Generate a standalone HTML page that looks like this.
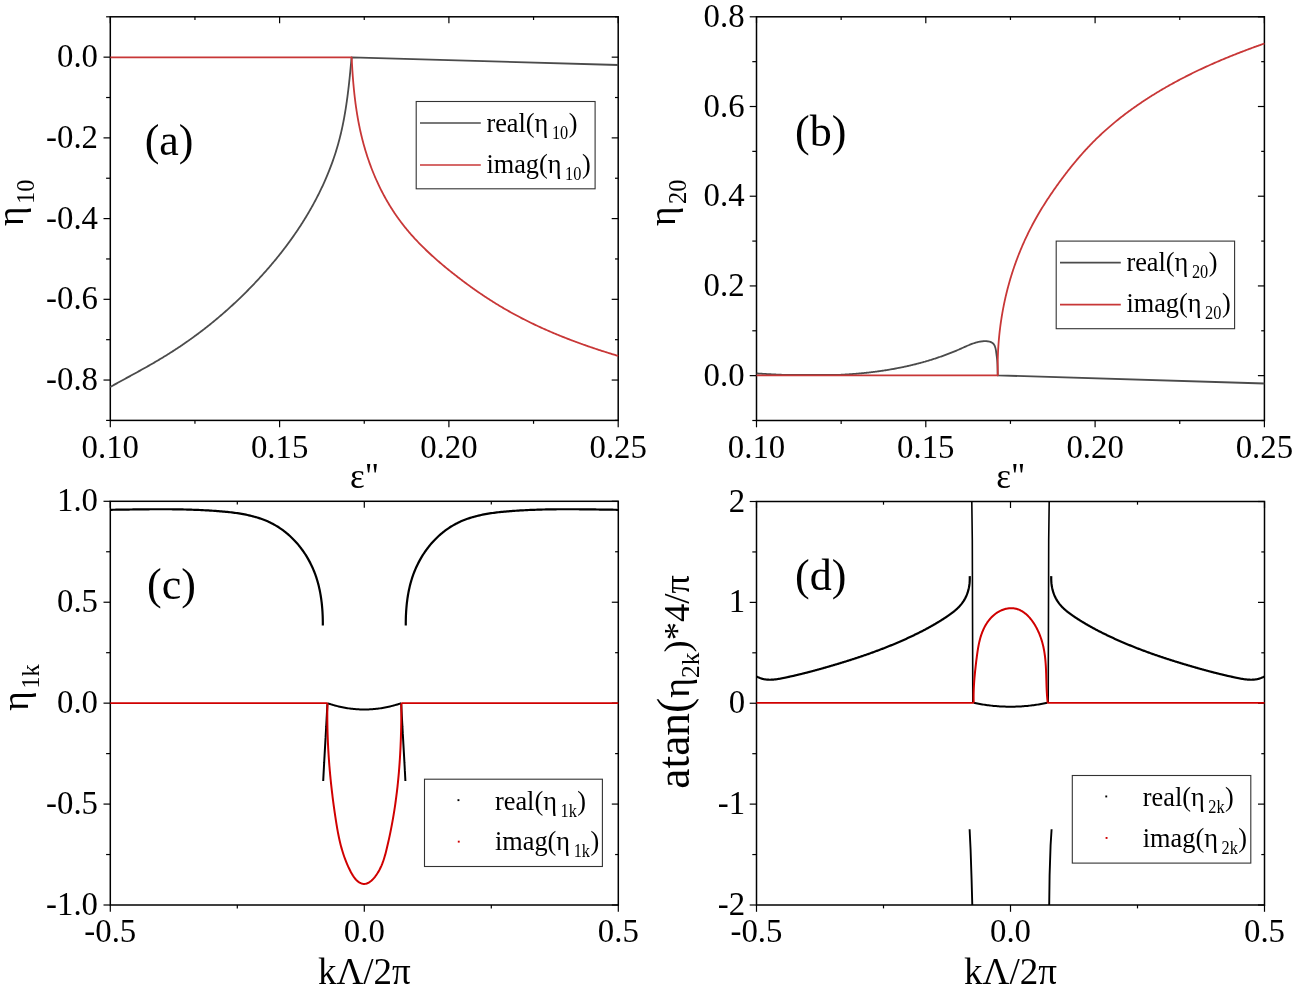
<!DOCTYPE html>
<html><head><meta charset="utf-8"><title>Figure</title>
<style>html,body{margin:0;padding:0;background:#fff;}svg{display:block;}text{font-family:'Liberation Serif','Times New Roman',serif;fill:#000;}</style>
</head><body>
<svg width="1300" height="988" viewBox="0 0 1300 988">
<rect width="1300" height="988" fill="#fff"/>
<line x1="110.3" y1="420.4" x2="110.3" y2="427.2" stroke="#000" stroke-width="1.2"/>
<line x1="110.3" y1="16.8" x2="110.3" y2="23.3" stroke="#000" stroke-width="1.2"/>
<line x1="279.6" y1="420.4" x2="279.6" y2="427.2" stroke="#000" stroke-width="1.2"/>
<line x1="279.6" y1="16.8" x2="279.6" y2="23.3" stroke="#000" stroke-width="1.2"/>
<line x1="448.9" y1="420.4" x2="448.9" y2="427.2" stroke="#000" stroke-width="1.2"/>
<line x1="448.9" y1="16.8" x2="448.9" y2="23.3" stroke="#000" stroke-width="1.2"/>
<line x1="618.2" y1="420.4" x2="618.2" y2="427.2" stroke="#000" stroke-width="1.2"/>
<line x1="618.2" y1="16.8" x2="618.2" y2="23.3" stroke="#000" stroke-width="1.2"/>
<line x1="194.95" y1="420.4" x2="194.95" y2="423.8" stroke="#000" stroke-width="1.2"/>
<line x1="194.95" y1="16.8" x2="194.95" y2="20" stroke="#000" stroke-width="1.2"/>
<line x1="364.25" y1="420.4" x2="364.25" y2="423.8" stroke="#000" stroke-width="1.2"/>
<line x1="364.25" y1="16.8" x2="364.25" y2="20" stroke="#000" stroke-width="1.2"/>
<line x1="533.55" y1="420.4" x2="533.55" y2="423.8" stroke="#000" stroke-width="1.2"/>
<line x1="533.55" y1="16.8" x2="533.55" y2="20" stroke="#000" stroke-width="1.2"/>
<line x1="103.5" y1="380.04" x2="110.3" y2="380.04" stroke="#000" stroke-width="1.2"/>
<line x1="611.7" y1="380.04" x2="618.2" y2="380.04" stroke="#000" stroke-width="1.2"/>
<line x1="103.5" y1="299.32" x2="110.3" y2="299.32" stroke="#000" stroke-width="1.2"/>
<line x1="611.7" y1="299.32" x2="618.2" y2="299.32" stroke="#000" stroke-width="1.2"/>
<line x1="103.5" y1="218.6" x2="110.3" y2="218.6" stroke="#000" stroke-width="1.2"/>
<line x1="611.7" y1="218.6" x2="618.2" y2="218.6" stroke="#000" stroke-width="1.2"/>
<line x1="103.5" y1="137.88" x2="110.3" y2="137.88" stroke="#000" stroke-width="1.2"/>
<line x1="611.7" y1="137.88" x2="618.2" y2="137.88" stroke="#000" stroke-width="1.2"/>
<line x1="103.5" y1="57.16" x2="110.3" y2="57.16" stroke="#000" stroke-width="1.2"/>
<line x1="611.7" y1="57.16" x2="618.2" y2="57.16" stroke="#000" stroke-width="1.2"/>
<line x1="106.1" y1="420.4" x2="110.3" y2="420.4" stroke="#000" stroke-width="1.2"/>
<line x1="615" y1="420.4" x2="618.2" y2="420.4" stroke="#000" stroke-width="1.2"/>
<line x1="106.1" y1="339.68" x2="110.3" y2="339.68" stroke="#000" stroke-width="1.2"/>
<line x1="615" y1="339.68" x2="618.2" y2="339.68" stroke="#000" stroke-width="1.2"/>
<line x1="106.1" y1="258.96" x2="110.3" y2="258.96" stroke="#000" stroke-width="1.2"/>
<line x1="615" y1="258.96" x2="618.2" y2="258.96" stroke="#000" stroke-width="1.2"/>
<line x1="106.1" y1="178.24" x2="110.3" y2="178.24" stroke="#000" stroke-width="1.2"/>
<line x1="615" y1="178.24" x2="618.2" y2="178.24" stroke="#000" stroke-width="1.2"/>
<line x1="106.1" y1="97.52" x2="110.3" y2="97.52" stroke="#000" stroke-width="1.2"/>
<line x1="615" y1="97.52" x2="618.2" y2="97.52" stroke="#000" stroke-width="1.2"/>
<line x1="106.1" y1="16.8" x2="110.3" y2="16.8" stroke="#000" stroke-width="1.2"/>
<line x1="615" y1="16.8" x2="618.2" y2="16.8" stroke="#000" stroke-width="1.2"/>
<rect x="110.3" y="16.8" width="507.9" height="403.6" fill="none" stroke="#000" stroke-width="1.5"/>
<polyline points="110.18,387 111.13,386.48 112.07,385.95 113.01,385.43 113.96,384.91 114.9,384.39 115.84,383.87 116.79,383.35 117.74,382.83 118.68,382.31 119.63,381.79 120.58,381.27 121.52,380.75 122.47,380.24 123.42,379.72 124.37,379.2 125.31,378.68 126.26,378.16 127.21,377.65 128.16,377.13 129.11,376.61 130.05,376.09 131,375.57 131.95,375.05 132.9,374.53 133.84,374.01 134.79,373.49 135.74,372.97 136.69,372.45 137.63,371.93 138.58,371.41 139.52,370.88 140.47,370.36 141.41,369.83 142.36,369.31 143.3,368.78 144.24,368.25 145.19,367.72 146.13,367.19 147.07,366.66 148.01,366.13 148.95,365.6 149.89,365.06 150.82,364.53 151.76,363.99 152.7,363.45 153.63,362.91 154.57,362.37 155.5,361.82 156.43,361.28 157.36,360.73 158.29,360.18 159.22,359.63 160.15,359.08 161.07,358.52 162,357.96 162.92,357.41 163.84,356.85 164.76,356.28 165.68,355.72 166.6,355.15 167.52,354.58 168.43,354.01 169.35,353.43 170.26,352.86 171.17,352.28 172.08,351.7 172.98,351.12 173.89,350.53 174.8,349.94 175.7,349.36 176.6,348.76 177.5,348.17 178.4,347.57 179.3,346.98 180.19,346.38 181.08,345.77 181.98,345.17 182.87,344.56 183.76,343.95 184.65,343.34 185.53,342.73 186.42,342.11 187.3,341.5 188.18,340.88 189.06,340.25 189.94,339.63 190.82,339 191.69,338.37 192.57,337.74 193.44,337.11 194.31,336.48 195.18,335.84 196.05,335.2 196.91,334.56 197.78,333.91 198.64,333.27 199.5,332.62 200.36,331.97 201.22,331.32 202.08,330.67 202.93,330.01 203.78,329.35 204.64,328.69 205.49,328.03 206.34,327.36 207.18,326.7 208.03,326.03 208.87,325.36 209.71,324.68 210.55,324.01 211.39,323.33 212.23,322.65 213.07,321.97 213.9,321.29 214.73,320.6 215.56,319.91 216.39,319.22 217.22,318.53 218.04,317.84 218.87,317.14 219.69,316.44 220.51,315.74 221.33,315.04 222.15,314.33 222.96,313.63 223.78,312.92 224.59,312.21 225.4,311.5 226.21,310.78 227.01,310.06 227.82,309.35 228.62,308.63 229.43,307.9 230.23,307.18 231.02,306.45 231.82,305.72 232.62,304.99 233.41,304.26 234.2,303.53 234.99,302.79 235.78,302.05 236.57,301.31 237.35,300.57 238.13,299.83 238.91,299.08 239.69,298.33 240.47,297.58 241.25,296.83 242.02,296.08 242.79,295.32 243.56,294.57 244.33,293.81 245.1,293.05 245.87,292.28 246.63,291.52 247.39,290.75 248.15,289.99 248.91,289.22 249.67,288.45 250.42,287.67 251.17,286.9 251.92,286.12 252.67,285.34 253.42,284.56 254.17,283.78 254.91,283 255.65,282.21 256.39,281.43 257.13,280.64 257.87,279.85 258.6,279.06 259.33,278.26 260.06,277.47 260.79,276.67 261.52,275.88 262.24,275.08 262.97,274.27 263.69,273.47 264.41,272.67 265.12,271.86 265.84,271.05 266.55,270.24 267.26,269.43 267.97,268.62 268.68,267.8 269.39,266.98 270.09,266.16 270.79,265.34 271.49,264.52 272.19,263.7 272.88,262.87 273.57,262.04 274.26,261.22 274.95,260.38 275.64,259.55 276.32,258.72 277,257.88 277.68,257.04 278.36,256.2 279.03,255.36 279.71,254.52 280.38,253.67 281.04,252.83 281.71,251.98 282.37,251.13 283.03,250.27 283.69,249.42 284.35,248.56 285,247.7 285.65,246.84 286.3,245.98 286.95,245.12 287.59,244.25 288.24,243.38 288.87,242.52 289.51,241.64 290.15,240.77 290.78,239.9 291.41,239.02 292.03,238.14 292.66,237.26 293.28,236.38 293.9,235.49 294.51,234.61 295.13,233.72 295.74,232.83 296.35,231.93 296.95,231.04 297.56,230.14 298.16,229.25 298.75,228.35 299.35,227.45 299.94,226.54 300.53,225.64 301.12,224.73 301.7,223.82 302.28,222.91 302.86,222 303.43,221.08 304.01,220.17 304.57,219.25 305.14,218.33 305.7,217.41 306.27,216.48 306.82,215.56 307.38,214.63 307.93,213.7 308.48,212.77 309.02,211.84 309.56,210.9 310.1,209.97 310.64,209.03 311.17,208.09 311.7,207.15 312.23,206.21 312.75,205.26 313.27,204.32 313.79,203.37 314.3,202.42 314.82,201.47 315.32,200.51 315.83,199.56 316.33,198.6 316.83,197.65 317.32,196.69 317.81,195.72 318.3,194.76 318.78,193.8 319.26,192.83 319.74,191.86 320.21,190.89 320.68,189.92 321.15,188.95 321.61,187.98 322.07,187 322.53,186.02 322.98,185.04 323.43,184.06 323.88,183.08 324.32,182.1 324.76,181.11 325.19,180.13 325.62,179.14 326.05,178.15 326.47,177.16 326.89,176.17 327.31,175.17 327.72,174.18 328.13,173.18 328.54,172.18 328.94,171.18 329.33,170.18 329.73,169.17 330.12,168.17 330.5,167.16 330.88,166.16 331.26,165.15 331.64,164.14 332.01,163.13 332.37,162.11 332.73,161.1 333.09,160.08 333.45,159.07 333.8,158.05 334.14,157.03 334.48,156 334.82,154.98 335.16,153.96 335.48,152.93 335.81,151.91 336.13,150.88 336.45,149.85 336.76,148.82 337.07,147.78 337.37,146.75 337.67,145.72 337.97,144.68 338.26,143.64 338.55,142.6 338.83,141.56 339.11,140.52 339.38,139.48 339.65,138.44 339.92,137.39 340.18,136.34 340.44,135.3 340.69,134.25 340.94,133.2 341.19,132.15 341.43,131.1 341.67,130.04 341.9,128.99 342.13,127.93 342.36,126.88 342.58,125.82 342.8,124.76 343.01,123.7 343.23,122.65 343.43,121.58 343.64,120.52 343.84,119.46 344.04,118.4 344.23,117.34 344.43,116.27 344.62,115.21 344.8,114.14 344.98,113.07 345.16,112.01 345.34,110.94 345.51,109.87 345.69,108.8 345.85,107.73 346.02,106.66 346.18,105.59 346.34,104.52 346.5,103.45 346.66,102.38 346.81,101.31 346.96,100.23 347.11,99.16 347.25,98.09 347.4,97.02 347.54,95.94 347.68,94.87 347.81,93.79 347.95,92.72 348.08,91.64 348.21,90.57 348.34,89.49 348.47,88.42 348.59,87.34 348.72,86.27 348.84,85.19 348.96,84.12 349.08,83.04 349.19,81.97 349.31,80.89 349.42,79.82 349.54,78.74 349.65,77.67 349.76,76.6 349.87,75.52 349.97,74.45 350.08,73.37 350.19,72.3 350.29,71.23 350.39,70.15 350.5,69.08 350.6,68.01 350.7,66.94 350.8,65.86 350.9,64.79 351,63.72 351.1,62.65 351.2,61.58 351.29,60.51 351.39,59.44 351.49,58.38 351.58,57.31 618.2,65" fill="none" stroke="#4b4b4b" stroke-width="1.8" stroke-linejoin="round" stroke-linecap="butt" />
<polyline points="110.3,57.3 351.7,57.3 351.66,57.35 351.71,58.42 351.77,59.5 351.82,60.57 351.88,61.65 351.93,62.73 351.99,63.8 352.05,64.88 352.11,65.96 352.18,67.04 352.24,68.12 352.31,69.2 352.37,70.28 352.44,71.36 352.52,72.44 352.59,73.52 352.67,74.61 352.74,75.69 352.82,76.77 352.9,77.85 352.99,78.93 353.07,80.02 353.16,81.1 353.25,82.18 353.34,83.27 353.44,84.35 353.54,85.43 353.64,86.52 353.74,87.6 353.84,88.68 353.95,89.77 354.06,90.85 354.17,91.93 354.28,93.02 354.4,94.1 354.52,95.18 354.64,96.26 354.77,97.35 354.9,98.43 355.03,99.51 355.16,100.59 355.3,101.68 355.44,102.76 355.58,103.84 355.73,104.92 355.88,106 356.03,107.08 356.19,108.16 356.35,109.24 356.51,110.31 356.68,111.39 356.84,112.47 357.02,113.55 357.19,114.62 357.37,115.7 357.56,116.77 357.74,117.85 357.93,118.92 358.13,120 358.32,121.07 358.52,122.14 358.73,123.21 358.94,124.28 359.15,125.35 359.37,126.42 359.59,127.49 359.81,128.56 360.04,129.62 360.28,130.69 360.51,131.75 360.75,132.81 361,133.88 361.25,134.94 361.5,136 361.76,137.06 362.02,138.12 362.29,139.17 362.56,140.23 362.84,141.28 363.11,142.34 363.4,143.39 363.69,144.44 363.98,145.49 364.27,146.54 364.57,147.59 364.88,148.63 365.19,149.68 365.5,150.72 365.82,151.76 366.14,152.8 366.46,153.84 366.79,154.88 367.13,155.92 367.47,156.95 367.81,157.98 368.16,159.01 368.51,160.04 368.87,161.07 369.23,162.1 369.59,163.12 369.96,164.14 370.34,165.17 370.71,166.18 371.1,167.2 371.48,168.22 371.87,169.23 372.27,170.24 372.67,171.25 373.08,172.26 373.48,173.27 373.9,174.27 374.32,175.27 374.74,176.27 375.17,177.27 375.6,178.26 376.03,179.26 376.47,180.25 376.92,181.24 377.37,182.23 377.82,183.21 378.28,184.19 378.74,185.17 379.21,186.15 379.68,187.13 380.16,188.1 380.64,189.07 381.13,190.04 381.62,191 382.11,191.97 382.61,192.93 383.11,193.89 383.62,194.84 384.14,195.79 384.65,196.74 385.18,197.69 385.7,198.64 386.23,199.58 386.77,200.52 387.31,201.46 387.86,202.39 388.41,203.32 388.96,204.25 389.52,205.18 390.09,206.1 390.66,207.02 391.23,207.94 391.81,208.85 392.39,209.76 392.98,210.67 393.57,211.58 394.17,212.48 394.77,213.38 395.38,214.27 395.99,215.16 396.61,216.05 397.23,216.94 397.85,217.82 398.48,218.7 399.12,219.58 399.76,220.45 400.41,221.32 401.06,222.19 401.71,223.05 402.37,223.91 403.03,224.77 403.7,225.62 404.38,226.47 405.06,227.32 405.74,228.16 406.43,229 407.12,229.84 407.82,230.67 408.52,231.5 409.22,232.33 409.93,233.15 410.65,233.97 411.36,234.79 412.09,235.6 412.81,236.41 413.54,237.22 414.28,238.02 415.01,238.83 415.76,239.62 416.5,240.42 417.25,241.21 418,242 418.76,242.79 419.52,243.57 420.28,244.35 421.05,245.13 421.82,245.9 422.59,246.67 423.37,247.44 424.15,248.21 424.93,248.97 425.72,249.73 426.51,250.49 427.3,251.25 428.1,252 428.89,252.75 429.7,253.49 430.5,254.24 431.31,254.98 432.11,255.72 432.93,256.45 433.74,257.19 434.56,257.92 435.37,258.65 436.2,259.37 437.02,260.1 437.85,260.82 438.67,261.53 439.5,262.25 440.34,262.96 441.17,263.67 442.01,264.38 442.84,265.09 443.68,265.79 444.53,266.49 445.37,267.19 446.21,267.89 447.06,268.59 447.91,269.28 448.76,269.97 449.61,270.66 450.46,271.34 451.32,272.02 452.17,272.71 453.03,273.38 453.89,274.06 454.75,274.74 455.61,275.41 456.47,276.08 457.33,276.75 458.19,277.42 459.06,278.08 459.92,278.74 460.79,279.4 461.66,280.06 462.53,280.72 463.4,281.37 464.27,282.02 465.14,282.67 466.01,283.32 466.89,283.96 467.76,284.61 468.64,285.25 469.52,285.89 470.4,286.52 471.28,287.16 472.16,287.79 473.05,288.42 473.93,289.04 474.82,289.67 475.7,290.29 476.59,290.91 477.48,291.53 478.37,292.15 479.27,292.76 480.16,293.37 481.06,293.98 481.95,294.58 482.85,295.19 483.75,295.79 484.65,296.39 485.56,296.99 486.46,297.58 487.37,298.17 488.27,298.76 489.18,299.35 490.09,299.94 491,300.52 491.92,301.1 492.83,301.68 493.75,302.25 494.67,302.82 495.58,303.39 496.51,303.96 497.43,304.53 498.35,305.09 499.28,305.65 500.21,306.21 501.13,306.76 502.07,307.31 503,307.86 503.93,308.41 504.87,308.96 505.81,309.5 506.74,310.04 507.69,310.58 508.63,311.11 509.57,311.64 510.52,312.17 511.47,312.7 512.42,313.22 513.37,313.75 514.32,314.27 515.27,314.78 516.23,315.3 517.19,315.81 518.15,316.32 519.11,316.82 520.07,317.33 521.03,317.83 522,318.33 522.97,318.83 523.93,319.32 524.9,319.81 525.87,320.3 526.85,320.79 527.82,321.27 528.8,321.76 529.77,322.24 530.75,322.71 531.73,323.19 532.71,323.66 533.69,324.13 534.68,324.6 535.66,325.07 536.65,325.53 537.63,325.99 538.62,326.45 539.61,326.91 540.6,327.36 541.59,327.81 542.59,328.26 543.58,328.71 544.58,329.15 545.57,329.6 546.57,330.04 547.57,330.48 548.57,330.91 549.57,331.35 550.57,331.78 551.57,332.21 552.58,332.64 553.58,333.06 554.59,333.48 555.59,333.9 556.6,334.32 557.61,334.74 558.62,335.16 559.63,335.57 560.64,335.98 561.65,336.39 562.66,336.79 563.68,337.2 564.69,337.6 565.71,338 566.72,338.4 567.74,338.79 568.76,339.19 569.78,339.58 570.8,339.97 571.82,340.36 572.84,340.74 573.86,341.13 574.88,341.51 575.9,341.89 576.92,342.27 577.95,342.64 578.97,343.02 580,343.39 581.02,343.76 582.05,344.13 583.07,344.49 584.1,344.86 585.13,345.22 586.15,345.58 587.18,345.94 588.21,346.3 589.24,346.65 590.27,347 591.3,347.36 592.33,347.71 593.36,348.05 594.39,348.4 595.42,348.74 596.45,349.09 597.48,349.43 598.52,349.77 599.55,350.1 600.58,350.44 601.61,350.77 602.65,351.1 603.68,351.44 604.71,351.76 605.75,352.09 606.78,352.42 607.81,352.74 608.85,353.06 609.88,353.38 610.91,353.7 611.95,354.02 612.98,354.33 614.02,354.65 615.05,354.96 616.08,355.27 617.12,355.58 618.15,355.88" fill="none" stroke="#c83737" stroke-width="1.8" stroke-linejoin="round" stroke-linecap="butt" />
<line x1="756.5" y1="420.5" x2="756.5" y2="427.3" stroke="#000" stroke-width="1.2"/>
<line x1="756.5" y1="16.8" x2="756.5" y2="23.3" stroke="#000" stroke-width="1.2"/>
<line x1="925.8" y1="420.5" x2="925.8" y2="427.3" stroke="#000" stroke-width="1.2"/>
<line x1="925.8" y1="16.8" x2="925.8" y2="23.3" stroke="#000" stroke-width="1.2"/>
<line x1="1095.1" y1="420.5" x2="1095.1" y2="427.3" stroke="#000" stroke-width="1.2"/>
<line x1="1095.1" y1="16.8" x2="1095.1" y2="23.3" stroke="#000" stroke-width="1.2"/>
<line x1="1264.4" y1="420.5" x2="1264.4" y2="427.3" stroke="#000" stroke-width="1.2"/>
<line x1="1264.4" y1="16.8" x2="1264.4" y2="23.3" stroke="#000" stroke-width="1.2"/>
<line x1="841.15" y1="420.5" x2="841.15" y2="423.9" stroke="#000" stroke-width="1.2"/>
<line x1="841.15" y1="16.8" x2="841.15" y2="20" stroke="#000" stroke-width="1.2"/>
<line x1="1010.45" y1="420.5" x2="1010.45" y2="423.9" stroke="#000" stroke-width="1.2"/>
<line x1="1010.45" y1="16.8" x2="1010.45" y2="20" stroke="#000" stroke-width="1.2"/>
<line x1="1179.75" y1="420.5" x2="1179.75" y2="423.9" stroke="#000" stroke-width="1.2"/>
<line x1="1179.75" y1="16.8" x2="1179.75" y2="20" stroke="#000" stroke-width="1.2"/>
<line x1="749.7" y1="375.64" x2="756.5" y2="375.64" stroke="#000" stroke-width="1.2"/>
<line x1="1257.9" y1="375.64" x2="1264.4" y2="375.64" stroke="#000" stroke-width="1.2"/>
<line x1="749.7" y1="285.93" x2="756.5" y2="285.93" stroke="#000" stroke-width="1.2"/>
<line x1="1257.9" y1="285.93" x2="1264.4" y2="285.93" stroke="#000" stroke-width="1.2"/>
<line x1="749.7" y1="196.22" x2="756.5" y2="196.22" stroke="#000" stroke-width="1.2"/>
<line x1="1257.9" y1="196.22" x2="1264.4" y2="196.22" stroke="#000" stroke-width="1.2"/>
<line x1="749.7" y1="106.51" x2="756.5" y2="106.51" stroke="#000" stroke-width="1.2"/>
<line x1="1257.9" y1="106.51" x2="1264.4" y2="106.51" stroke="#000" stroke-width="1.2"/>
<line x1="749.7" y1="16.8" x2="756.5" y2="16.8" stroke="#000" stroke-width="1.2"/>
<line x1="1257.9" y1="16.8" x2="1264.4" y2="16.8" stroke="#000" stroke-width="1.2"/>
<line x1="752.3" y1="420.5" x2="756.5" y2="420.5" stroke="#000" stroke-width="1.2"/>
<line x1="1261.2" y1="420.5" x2="1264.4" y2="420.5" stroke="#000" stroke-width="1.2"/>
<line x1="752.3" y1="330.79" x2="756.5" y2="330.79" stroke="#000" stroke-width="1.2"/>
<line x1="1261.2" y1="330.79" x2="1264.4" y2="330.79" stroke="#000" stroke-width="1.2"/>
<line x1="752.3" y1="241.08" x2="756.5" y2="241.08" stroke="#000" stroke-width="1.2"/>
<line x1="1261.2" y1="241.08" x2="1264.4" y2="241.08" stroke="#000" stroke-width="1.2"/>
<line x1="752.3" y1="151.37" x2="756.5" y2="151.37" stroke="#000" stroke-width="1.2"/>
<line x1="1261.2" y1="151.37" x2="1264.4" y2="151.37" stroke="#000" stroke-width="1.2"/>
<line x1="752.3" y1="61.66" x2="756.5" y2="61.66" stroke="#000" stroke-width="1.2"/>
<line x1="1261.2" y1="61.66" x2="1264.4" y2="61.66" stroke="#000" stroke-width="1.2"/>
<rect x="756.5" y="16.8" width="507.9" height="403.7" fill="none" stroke="#000" stroke-width="1.5"/>
<polyline points="756.56,373.42 757.24,373.47 757.92,373.51 758.6,373.55 759.28,373.6 759.96,373.64 760.64,373.68 761.33,373.72 762.01,373.76 762.69,373.81 763.37,373.85 764.06,373.89 764.74,373.93 765.42,373.97 766.11,374 766.79,374.04 767.47,374.08 768.16,374.12 768.84,374.16 769.53,374.19 770.21,374.23 770.9,374.26 771.58,374.3 772.27,374.34 772.95,374.37 773.64,374.4 774.32,374.44 775.01,374.47 775.69,374.5 776.38,374.54 777.06,374.57 777.75,374.6 778.44,374.63 779.12,374.66 779.81,374.69 780.5,374.72 781.18,374.75 781.87,374.78 782.56,374.8 783.24,374.83 783.93,374.86 784.62,374.88 785.3,374.91 785.99,374.94 786.68,374.96 787.37,374.98 788.06,375 788.74,375 789.43,375 790.12,375 790.81,375 791.5,375 792.18,375 792.87,375 793.56,375 794.25,375 794.94,375 795.63,375 796.32,375 797.01,375 797.69,375 798.38,375 799.07,375 799.76,375 800.45,375 801.14,375 801.83,375 802.52,375 803.21,375 803.9,375 804.59,375 805.28,375 805.97,375 806.66,375 807.35,375 808.04,375 808.73,375 809.42,375 810.11,375 810.8,375 811.49,375 812.18,375 812.87,375 813.56,375 814.25,375 814.94,375 815.63,375 816.32,375 817.01,375 817.7,375 818.39,375 819.08,375 819.77,375 820.46,375 821.15,375 821.84,375 822.53,375 823.22,375 823.91,375 824.6,375 825.29,375 825.98,375 826.67,375 827.36,375 828.05,375 828.74,375 829.43,375 830.12,375 830.81,375 831.5,375 832.19,375 832.88,375 833.57,375 834.26,375 834.95,375 835.64,374.99 836.32,374.96 837.01,374.93 837.7,374.9 838.39,374.87 839.08,374.84 839.77,374.81 840.46,374.78 841.15,374.74 841.84,374.71 842.53,374.67 843.21,374.63 843.9,374.59 844.59,374.55 845.28,374.51 845.97,374.47 846.66,374.43 847.34,374.39 848.03,374.34 848.72,374.3 849.41,374.25 850.1,374.2 850.78,374.16 851.47,374.11 852.16,374.06 852.85,374.01 853.53,373.95 854.22,373.9 854.91,373.85 855.59,373.79 856.28,373.73 856.97,373.68 857.65,373.62 858.34,373.56 859.02,373.5 859.71,373.44 860.4,373.37 861.08,373.31 861.77,373.24 862.45,373.18 863.14,373.11 863.82,373.04 864.51,372.97 865.19,372.9 865.88,372.83 866.56,372.76 867.25,372.68 867.93,372.61 868.61,372.53 869.3,372.46 869.98,372.38 870.67,372.3 871.35,372.22 872.03,372.14 872.72,372.05 873.4,371.97 874.08,371.88 874.76,371.8 875.44,371.71 876.13,371.62 876.81,371.53 877.49,371.44 878.17,371.34 878.85,371.25 879.53,371.16 880.21,371.06 880.89,370.96 881.58,370.86 882.26,370.76 882.94,370.66 883.62,370.56 884.29,370.46 884.97,370.35 885.65,370.24 886.33,370.14 887.01,370.03 887.69,369.92 888.37,369.81 889.04,369.69 889.72,369.58 890.4,369.47 891.08,369.35 891.75,369.23 892.43,369.11 893.11,368.99 893.78,368.87 894.46,368.75 895.13,368.62 895.81,368.5 896.48,368.37 897.16,368.24 897.83,368.11 898.51,367.98 899.18,367.85 899.86,367.71 900.53,367.58 901.2,367.44 901.88,367.3 902.55,367.16 903.22,367.02 903.89,366.88 904.56,366.74 905.24,366.59 905.91,366.45 906.58,366.3 907.25,366.15 907.92,366 908.59,365.85 909.26,365.69 909.93,365.54 910.6,365.38 911.27,365.22 911.93,365.06 912.6,364.9 913.27,364.74 913.94,364.58 914.6,364.41 915.27,364.25 915.94,364.08 916.6,363.91 917.27,363.74 917.93,363.56 918.6,363.39 919.26,363.21 919.93,363.04 920.59,362.86 921.26,362.68 921.92,362.5 922.58,362.31 923.25,362.13 923.91,361.94 924.57,361.75 925.23,361.57 925.89,361.37 926.55,361.18 927.21,360.99 927.87,360.79 928.53,360.59 929.19,360.4 929.85,360.2 930.51,359.99 931.17,359.79 931.83,359.58 932.48,359.38 933.14,359.17 933.8,358.96 934.45,358.75 935.11,358.53 935.77,358.32 936.42,358.1 937.08,357.88 937.73,357.66 938.38,357.44 939.04,357.22 939.69,356.99 940.34,356.77 940.99,356.54 941.65,356.31 942.3,356.08 942.95,355.84 943.6,355.61 944.25,355.37 944.9,355.13 945.55,354.89 946.2,354.65 946.84,354.41 947.49,354.16 948.14,353.92 948.79,353.67 949.43,353.42 950.08,353.17 950.73,352.91 951.37,352.66 952.02,352.4 952.66,352.14 953.3,351.88 953.95,351.62 954.59,351.35 955.23,351.09 955.87,350.82 956.52,350.55 957.16,350.28 957.8,350 958.44,349.73 959.08,349.45 959.72,349.17 960.35,348.89 960.99,348.61 961.63,348.32 962.27,348.04 962.9,347.75 963.54,347.47 964.18,347.18 964.81,346.89 965.45,346.61 966.09,346.33 966.72,346.05 967.36,345.77 968,345.5 968.64,345.23 969.27,344.96 969.91,344.7 970.55,344.45 971.2,344.2 971.84,343.95 972.48,343.72 973.12,343.49 973.77,343.27 974.41,343.05 975.06,342.85 975.71,342.65 976.36,342.47 977.01,342.29 977.67,342.13 978.32,341.98 978.98,341.84 979.64,341.71 980.3,341.59 980.96,341.49 981.63,341.4 982.3,341.33 982.97,341.27 983.64,341.22 984.32,341.2 984.99,341.18 985.67,341.19 986.36,341.21 987.04,341.26 987.71,341.33 988.38,341.42 989.03,341.54 989.67,341.7 990.3,341.89 990.9,342.11 991.48,342.38 992.03,342.69 992.55,343.04 993.03,343.44 993.48,343.9 993.89,344.4 994.26,344.96 994.58,345.58 994.86,346.23 995.11,346.93 995.33,347.65 995.52,348.4 995.69,349.17 995.84,349.94 995.97,350.72 996.08,351.49 996.19,352.26 996.29,353.01 996.38,353.73 996.47,354.43 996.56,355.1 996.65,355.76 996.74,356.41 996.82,357.05 996.9,357.68 996.97,358.31 997.04,358.95 997.1,359.59 997.16,360.25 997.22,360.91 997.27,361.58 997.32,362.25 997.36,362.94 997.4,363.63 997.44,364.32 997.47,365.02 997.5,365.72 997.53,366.42 997.55,367.13 997.57,367.84 997.59,368.54 997.61,369.25 997.62,369.95 997.64,370.65 997.65,371.35 997.66,372.04 997.67,372.72 997.68,373.41 997.68,374.08 997.69,374.75 997.7,375.4 1264.4,383.5" fill="none" stroke="#4b4b4b" stroke-width="1.8" stroke-linejoin="round" stroke-linecap="butt" />
<polyline points="756.5,375.4 997.7,375.4 997.79,375.37 997.77,374.23 997.74,373.08 997.72,371.94 997.7,370.79 997.69,369.65 997.68,368.51 997.68,367.36 997.68,366.22 997.68,365.07 997.69,363.92 997.7,362.78 997.72,361.63 997.74,360.49 997.77,359.34 997.8,358.19 997.83,357.05 997.87,355.9 997.91,354.75 997.96,353.61 998.01,352.46 998.06,351.31 998.12,350.16 998.19,349.02 998.25,347.87 998.33,346.72 998.4,345.58 998.48,344.43 998.57,343.28 998.65,342.14 998.75,340.99 998.84,339.85 998.95,338.7 999.05,337.55 999.16,336.41 999.27,335.26 999.39,334.12 999.51,332.98 999.64,331.83 999.77,330.69 999.91,329.55 1000.05,328.4 1000.19,327.26 1000.34,326.12 1000.49,324.98 1000.64,323.84 1000.8,322.7 1000.97,321.56 1001.14,320.42 1001.31,319.28 1001.49,318.14 1001.67,317 1001.85,315.87 1002.04,314.73 1002.24,313.6 1002.44,312.46 1002.64,311.33 1002.84,310.2 1003.06,309.06 1003.27,307.93 1003.49,306.8 1003.71,305.67 1003.94,304.54 1004.17,303.41 1004.41,302.29 1004.65,301.16 1004.89,300.04 1005.14,298.91 1005.39,297.79 1005.65,296.67 1005.91,295.55 1006.18,294.43 1006.45,293.31 1006.72,292.19 1007,291.07 1007.28,289.96 1007.57,288.84 1007.86,287.73 1008.16,286.62 1008.46,285.51 1008.76,284.4 1009.07,283.29 1009.38,282.18 1009.7,281.07 1010.02,279.97 1010.34,278.87 1010.67,277.76 1011,276.66 1011.34,275.57 1011.68,274.47 1012.03,273.37 1012.38,272.28 1012.73,271.18 1013.09,270.09 1013.45,269 1013.82,267.92 1014.19,266.83 1014.57,265.74 1014.95,264.66 1015.33,263.58 1015.72,262.5 1016.11,261.42 1016.51,260.34 1016.91,259.27 1017.31,258.19 1017.72,257.12 1018.13,256.05 1018.55,254.98 1018.97,253.92 1019.4,252.85 1019.83,251.79 1020.26,250.73 1020.7,249.67 1021.14,248.61 1021.59,247.55 1022.04,246.5 1022.49,245.44 1022.95,244.39 1023.41,243.34 1023.88,242.3 1024.35,241.25 1024.82,240.21 1025.3,239.17 1025.79,238.13 1026.27,237.09 1026.76,236.05 1027.26,235.02 1027.76,233.99 1028.26,232.95 1028.77,231.93 1029.28,230.9 1029.79,229.88 1030.31,228.85 1030.84,227.83 1031.36,226.81 1031.89,225.8 1032.43,224.78 1032.97,223.77 1033.51,222.76 1034.06,221.75 1034.61,220.74 1035.16,219.74 1035.72,218.74 1036.28,217.73 1036.85,216.74 1037.42,215.74 1037.99,214.75 1038.57,213.75 1039.16,212.76 1039.74,211.78 1040.33,210.79 1040.92,209.81 1041.52,208.82 1042.12,207.84 1042.72,206.87 1043.33,205.89 1043.94,204.91 1044.56,203.94 1045.17,202.97 1045.79,202 1046.42,201.04 1047.04,200.07 1047.67,199.11 1048.31,198.15 1048.94,197.19 1049.58,196.23 1050.22,195.28 1050.87,194.32 1051.52,193.37 1052.17,192.42 1052.82,191.47 1053.47,190.52 1054.13,189.58 1054.79,188.64 1055.45,187.69 1056.12,186.75 1056.79,185.82 1057.46,184.88 1058.13,183.94 1058.8,183.01 1059.48,182.08 1060.16,181.15 1060.84,180.22 1061.52,179.29 1062.21,178.37 1062.9,177.44 1063.59,176.52 1064.29,175.6 1064.98,174.69 1065.68,173.77 1066.38,172.86 1067.09,171.95 1067.79,171.04 1068.5,170.13 1069.21,169.23 1069.93,168.33 1070.65,167.43 1071.37,166.53 1072.09,165.63 1072.81,164.74 1073.54,163.85 1074.27,162.96 1075.01,162.08 1075.74,161.2 1076.48,160.31 1077.22,159.44 1077.97,158.56 1078.72,157.69 1079.47,156.82 1080.22,155.95 1080.98,155.09 1081.74,154.23 1082.5,153.37 1083.27,152.51 1084.03,151.66 1084.81,150.81 1085.58,149.96 1086.36,149.12 1087.14,148.28 1087.92,147.44 1088.71,146.6 1089.5,145.77 1090.3,144.94 1091.09,144.12 1091.89,143.3 1092.7,142.48 1093.5,141.66 1094.31,140.85 1095.12,140.04 1095.94,139.23 1096.76,138.43 1097.58,137.63 1098.41,136.84 1099.24,136.05 1100.07,135.26 1100.91,134.47 1101.75,133.69 1102.59,132.91 1103.44,132.14 1104.29,131.37 1105.14,130.6 1105.99,129.83 1106.85,129.07 1107.71,128.31 1108.57,127.56 1109.44,126.81 1110.31,126.06 1111.18,125.31 1112.06,124.57 1112.94,123.83 1113.82,123.1 1114.7,122.37 1115.59,121.64 1116.48,120.91 1117.37,120.19 1118.27,119.47 1119.16,118.75 1120.06,118.04 1120.97,117.33 1121.87,116.62 1122.78,115.92 1123.69,115.22 1124.6,114.52 1125.52,113.83 1126.44,113.14 1127.36,112.45 1128.28,111.77 1129.2,111.08 1130.13,110.4 1131.06,109.73 1131.99,109.06 1132.93,108.39 1133.86,107.72 1134.8,107.06 1135.74,106.4 1136.68,105.74 1137.63,105.08 1138.58,104.43 1139.52,103.78 1140.48,103.14 1141.43,102.49 1142.38,101.85 1143.34,101.22 1144.3,100.58 1145.26,99.95 1146.22,99.32 1147.19,98.7 1148.15,98.07 1149.12,97.45 1150.09,96.84 1151.06,96.22 1152.04,95.61 1153.01,95 1153.99,94.4 1154.97,93.79 1155.95,93.19 1156.93,92.59 1157.91,92 1158.9,91.41 1159.88,90.82 1160.87,90.23 1161.86,89.65 1162.85,89.07 1163.85,88.49 1164.84,87.91 1165.84,87.34 1166.83,86.77 1167.83,86.2 1168.83,85.63 1169.83,85.07 1170.84,84.51 1171.84,83.95 1172.85,83.39 1173.86,82.84 1174.87,82.29 1175.88,81.74 1176.89,81.2 1177.9,80.66 1178.92,80.12 1179.93,79.58 1180.95,79.04 1181.97,78.51 1182.99,77.98 1184.01,77.45 1185.03,76.93 1186.05,76.4 1187.08,75.88 1188.11,75.36 1189.13,74.85 1190.16,74.33 1191.19,73.82 1192.22,73.31 1193.26,72.81 1194.29,72.3 1195.32,71.8 1196.36,71.3 1197.4,70.8 1198.43,70.31 1199.47,69.81 1200.51,69.32 1201.55,68.83 1202.6,68.35 1203.64,67.86 1204.68,67.38 1205.73,66.9 1206.78,66.42 1207.82,65.95 1208.87,65.47 1209.92,65 1210.97,64.53 1212.02,64.07 1213.08,63.6 1214.13,63.14 1215.18,62.68 1216.24,62.22 1217.29,61.76 1218.35,61.31 1219.41,60.85 1220.47,60.4 1221.53,59.95 1222.59,59.51 1223.65,59.06 1224.71,58.62 1225.77,58.18 1226.83,57.74 1227.9,57.3 1228.96,56.87 1230.03,56.44 1231.09,56 1232.16,55.57 1233.23,55.15 1234.3,54.72 1235.36,54.3 1236.43,53.88 1237.5,53.45 1238.57,53.04 1239.65,52.62 1240.72,52.2 1241.79,51.79 1242.86,51.38 1243.94,50.97 1245.01,50.56 1246.09,50.16 1247.16,49.75 1248.24,49.35 1249.31,48.95 1250.39,48.55 1251.47,48.15 1252.54,47.76 1253.62,47.36 1254.7,46.97 1255.78,46.58 1256.86,46.19 1257.94,45.8 1259.02,45.41 1260.1,45.03 1261.18,44.65 1262.26,44.26 1263.34,43.88 1264.42,43.5" fill="none" stroke="#c83737" stroke-width="1.8" stroke-linejoin="round" stroke-linecap="butt" />
<line x1="110.3" y1="905" x2="110.3" y2="911.8" stroke="#000" stroke-width="1.2"/>
<line x1="110.3" y1="501.3" x2="110.3" y2="507.8" stroke="#000" stroke-width="1.2"/>
<line x1="364.3" y1="905" x2="364.3" y2="911.8" stroke="#000" stroke-width="1.2"/>
<line x1="364.3" y1="501.3" x2="364.3" y2="507.8" stroke="#000" stroke-width="1.2"/>
<line x1="618.3" y1="905" x2="618.3" y2="911.8" stroke="#000" stroke-width="1.2"/>
<line x1="618.3" y1="501.3" x2="618.3" y2="507.8" stroke="#000" stroke-width="1.2"/>
<line x1="237.3" y1="905" x2="237.3" y2="908.4" stroke="#000" stroke-width="1.2"/>
<line x1="237.3" y1="501.3" x2="237.3" y2="504.5" stroke="#000" stroke-width="1.2"/>
<line x1="491.3" y1="905" x2="491.3" y2="908.4" stroke="#000" stroke-width="1.2"/>
<line x1="491.3" y1="501.3" x2="491.3" y2="504.5" stroke="#000" stroke-width="1.2"/>
<line x1="103.5" y1="905" x2="110.3" y2="905" stroke="#000" stroke-width="1.2"/>
<line x1="611.8" y1="905" x2="618.3" y2="905" stroke="#000" stroke-width="1.2"/>
<line x1="103.5" y1="804.08" x2="110.3" y2="804.08" stroke="#000" stroke-width="1.2"/>
<line x1="611.8" y1="804.08" x2="618.3" y2="804.08" stroke="#000" stroke-width="1.2"/>
<line x1="103.5" y1="703.15" x2="110.3" y2="703.15" stroke="#000" stroke-width="1.2"/>
<line x1="611.8" y1="703.15" x2="618.3" y2="703.15" stroke="#000" stroke-width="1.2"/>
<line x1="103.5" y1="602.23" x2="110.3" y2="602.23" stroke="#000" stroke-width="1.2"/>
<line x1="611.8" y1="602.23" x2="618.3" y2="602.23" stroke="#000" stroke-width="1.2"/>
<line x1="103.5" y1="501.3" x2="110.3" y2="501.3" stroke="#000" stroke-width="1.2"/>
<line x1="611.8" y1="501.3" x2="618.3" y2="501.3" stroke="#000" stroke-width="1.2"/>
<line x1="106.1" y1="854.54" x2="110.3" y2="854.54" stroke="#000" stroke-width="1.2"/>
<line x1="615.1" y1="854.54" x2="618.3" y2="854.54" stroke="#000" stroke-width="1.2"/>
<line x1="106.1" y1="753.61" x2="110.3" y2="753.61" stroke="#000" stroke-width="1.2"/>
<line x1="615.1" y1="753.61" x2="618.3" y2="753.61" stroke="#000" stroke-width="1.2"/>
<line x1="106.1" y1="652.69" x2="110.3" y2="652.69" stroke="#000" stroke-width="1.2"/>
<line x1="615.1" y1="652.69" x2="618.3" y2="652.69" stroke="#000" stroke-width="1.2"/>
<line x1="106.1" y1="551.76" x2="110.3" y2="551.76" stroke="#000" stroke-width="1.2"/>
<line x1="615.1" y1="551.76" x2="618.3" y2="551.76" stroke="#000" stroke-width="1.2"/>
<rect x="110.3" y="501.3" width="508" height="403.7" fill="none" stroke="#000" stroke-width="1.5"/>
<polyline points="110.3,509.8 111.74,509.78 113.18,509.76 114.61,509.74 116.04,509.72 117.47,509.7 118.9,509.68 120.33,509.65 121.76,509.63 123.19,509.61 124.62,509.59 126.04,509.57 127.47,509.55 128.89,509.53 130.31,509.51 131.73,509.49 133.15,509.47 134.58,509.45 135.99,509.43 137.41,509.41 138.83,509.39 140.25,509.37 141.67,509.36 143.09,509.34 144.5,509.33 145.92,509.31 147.33,509.3 148.75,509.29 150.16,509.27 151.58,509.26 153,509.26 154.41,509.25 155.82,509.24 157.24,509.24 158.65,509.23 160.07,509.23 161.48,509.23 162.9,509.23 164.31,509.23 165.73,509.24 167.14,509.24 168.56,509.25 169.98,509.26 171.39,509.27 172.81,509.29 174.23,509.3 175.65,509.32 177.06,509.34 178.48,509.37 179.9,509.39 181.32,509.42 182.74,509.45 184.17,509.48 185.59,509.52 187.01,509.55 188.44,509.59 189.86,509.64 191.29,509.68 192.71,509.73 194.14,509.78 195.57,509.84 197,509.89 198.43,509.96 199.87,510.02 201.3,510.09 202.74,510.16 204.17,510.23 205.61,510.31 207.05,510.39 208.49,510.47 209.93,510.56 211.38,510.65 212.82,510.75 214.27,510.85 215.72,510.95 217.17,511.06 218.62,511.17 220.08,511.28 221.53,511.4 222.98,511.53 224.44,511.66 225.89,511.8 227.35,511.95 228.8,512.1 230.25,512.26 231.7,512.43 233.15,512.61 234.59,512.8 236.03,513 237.47,513.21 238.91,513.43 240.34,513.66 241.77,513.9 243.19,514.16 244.61,514.42 246.02,514.7 247.43,515 248.83,515.31 250.23,515.63 251.62,515.97 253,516.32 254.37,516.69 255.74,517.07 257.1,517.48 258.45,517.89 259.79,518.33 261.13,518.79 262.45,519.26 263.76,519.76 265.07,520.27 266.36,520.8 267.64,521.36 268.92,521.93 270.17,522.53 271.42,523.15 272.66,523.78 273.88,524.45 275.09,525.13 276.29,525.83 277.48,526.55 278.65,527.3 279.82,528.06 280.96,528.84 282.1,529.65 283.22,530.47 284.33,531.31 285.43,532.17 286.51,533.04 287.58,533.94 288.63,534.85 289.67,535.78 290.7,536.73 291.71,537.7 292.71,538.68 293.69,539.67 294.66,540.69 295.61,541.72 296.55,542.76 297.48,543.82 298.39,544.9 299.28,545.99 300.16,547.09 301.02,548.21 301.87,549.34 302.7,550.49 303.51,551.65 304.31,552.82 305.09,554 305.86,555.2 306.61,556.41 307.34,557.63 308.05,558.87 308.75,560.11 309.44,561.37 310.1,562.63 310.75,563.91 311.38,565.2 311.99,566.5 312.58,567.81 313.16,569.12 313.72,570.45 314.26,571.78 314.78,573.13 315.28,574.48 315.77,575.84 316.24,577.21 316.68,578.59 317.11,579.97 317.52,581.36 317.91,582.75 318.29,584.16 318.65,585.56 318.99,586.98 319.31,588.39 319.62,589.82 319.91,591.24 320.18,592.67 320.44,594.1 320.68,595.54 320.91,596.97 321.13,598.41 321.33,599.85 321.51,601.29 321.69,602.73 321.84,604.17 321.99,605.61 322.12,607.05 322.24,608.48 322.35,609.92 322.45,611.35 322.53,612.78 322.6,614.21 322.67,615.64 322.72,617.06 322.76,618.47 322.79,619.88 322.81,621.29 322.83,622.69 322.83,624.09 322.82,625.47" fill="none" stroke="#000" stroke-width="2.2" stroke-linejoin="round" stroke-linecap="butt" />
<polyline points="618.3,509.8 616.86,509.78 615.42,509.76 613.99,509.74 612.56,509.72 611.13,509.7 609.7,509.68 608.27,509.65 606.84,509.63 605.41,509.61 603.98,509.59 602.56,509.57 601.13,509.55 599.71,509.53 598.29,509.51 596.87,509.49 595.45,509.47 594.02,509.45 592.61,509.43 591.19,509.41 589.77,509.39 588.35,509.37 586.93,509.36 585.51,509.34 584.1,509.33 582.68,509.31 581.27,509.3 579.85,509.29 578.44,509.27 577.02,509.26 575.6,509.26 574.19,509.25 572.78,509.24 571.36,509.24 569.95,509.23 568.53,509.23 567.12,509.23 565.7,509.23 564.29,509.23 562.87,509.24 561.46,509.24 560.04,509.25 558.62,509.26 557.21,509.27 555.79,509.29 554.37,509.3 552.95,509.32 551.54,509.34 550.12,509.37 548.7,509.39 547.28,509.42 545.86,509.45 544.43,509.48 543.01,509.52 541.59,509.55 540.16,509.59 538.74,509.64 537.31,509.68 535.89,509.73 534.46,509.78 533.03,509.84 531.6,509.89 530.17,509.96 528.73,510.02 527.3,510.09 525.86,510.16 524.43,510.23 522.99,510.31 521.55,510.39 520.11,510.47 518.67,510.56 517.22,510.65 515.78,510.75 514.33,510.85 512.88,510.95 511.43,511.06 509.98,511.17 508.52,511.28 507.07,511.4 505.62,511.53 504.16,511.66 502.71,511.8 501.25,511.95 499.8,512.1 498.35,512.26 496.9,512.43 495.45,512.61 494.01,512.8 492.57,513 491.13,513.21 489.69,513.43 488.26,513.66 486.83,513.9 485.41,514.16 483.99,514.42 482.58,514.7 481.17,515 479.77,515.31 478.37,515.63 476.98,515.97 475.6,516.32 474.23,516.69 472.86,517.07 471.5,517.48 470.15,517.89 468.81,518.33 467.47,518.79 466.15,519.26 464.84,519.76 463.53,520.27 462.24,520.8 460.96,521.36 459.68,521.93 458.43,522.53 457.18,523.15 455.94,523.78 454.72,524.45 453.51,525.13 452.31,525.83 451.12,526.55 449.95,527.3 448.78,528.06 447.64,528.84 446.5,529.65 445.38,530.47 444.27,531.31 443.17,532.17 442.09,533.04 441.02,533.94 439.97,534.85 438.93,535.78 437.9,536.73 436.89,537.7 435.89,538.68 434.91,539.67 433.94,540.69 432.99,541.72 432.05,542.76 431.12,543.82 430.21,544.9 429.32,545.99 428.44,547.09 427.58,548.21 426.73,549.34 425.9,550.49 425.09,551.65 424.29,552.82 423.51,554 422.74,555.2 421.99,556.41 421.26,557.63 420.55,558.87 419.85,560.11 419.16,561.37 418.5,562.63 417.85,563.91 417.22,565.2 416.61,566.5 416.02,567.81 415.44,569.12 414.88,570.45 414.34,571.78 413.82,573.13 413.32,574.48 412.83,575.84 412.36,577.21 411.92,578.59 411.49,579.97 411.08,581.36 410.69,582.75 410.31,584.16 409.95,585.56 409.61,586.98 409.29,588.39 408.98,589.82 408.69,591.24 408.42,592.67 408.16,594.1 407.92,595.54 407.69,596.97 407.47,598.41 407.27,599.85 407.09,601.29 406.91,602.73 406.76,604.17 406.61,605.61 406.48,607.05 406.36,608.48 406.25,609.92 406.15,611.35 406.07,612.78 406,614.21 405.93,615.64 405.88,617.06 405.84,618.47 405.81,619.88 405.79,621.29 405.77,622.69 405.77,624.09 405.78,625.47" fill="none" stroke="#000" stroke-width="2.2" stroke-linejoin="round" stroke-linecap="butt" />
<polyline points="323.2,781 323.22,780.61 323.24,780.23 323.26,779.84 323.28,779.45 323.3,779.06 323.32,778.68 323.34,778.29 323.36,777.9 323.38,777.52 323.4,777.13 323.42,776.74 323.44,776.36 323.46,775.97 323.48,775.58 323.5,775.2 323.52,774.81 323.54,774.42 323.56,774.03 323.58,773.65 323.6,773.26 323.62,772.87 323.64,772.49 323.66,772.1 323.68,771.71 323.7,771.33 323.72,770.94 323.74,770.55 323.77,770.16 323.79,769.78 323.81,769.39 323.83,769 323.85,768.62 323.87,768.23 323.89,767.84 323.91,767.46 323.93,767.07 323.95,766.68 323.97,766.29 323.99,765.91 324.02,765.52 324.04,765.13 324.06,764.75 324.08,764.36 324.1,763.97 324.12,763.59 324.14,763.2 324.16,762.81 324.19,762.43 324.21,762.04 324.23,761.65 324.25,761.26 324.27,760.88 324.29,760.49 324.31,760.1 324.33,759.72 324.36,759.33 324.38,758.94 324.4,758.56 324.42,758.17 324.44,757.78 324.46,757.4 324.48,757.01 324.51,756.62 324.53,756.23 324.55,755.85 324.57,755.46 324.59,755.07 324.61,754.69 324.64,754.3 324.66,753.91 324.68,753.53 324.7,753.14 324.72,752.75 324.74,752.37 324.77,751.98 324.79,751.59 324.81,751.21 324.83,750.82 324.85,750.43 324.88,750.04 324.9,749.66 324.92,749.27 324.94,748.88 324.96,748.5 324.98,748.11 325.01,747.72 325.03,747.34 325.05,746.95 325.07,746.56 325.09,746.18 325.12,745.79 325.14,745.4 325.16,745.01 325.18,744.63 325.2,744.24 325.23,743.85 325.25,743.47 325.27,743.08 325.29,742.69 325.31,742.31 325.33,741.92 325.36,741.53 325.38,741.15 325.4,740.76 325.42,740.37 325.44,739.99 325.47,739.6 325.49,739.21 325.51,738.82 325.53,738.44 325.55,738.05 325.58,737.66 325.6,737.28 325.62,736.89 325.64,736.5 325.66,736.12 325.68,735.73 325.71,735.34 325.73,734.96 325.75,734.57 325.77,734.18 325.79,733.79 325.82,733.41 325.84,733.02 325.86,732.63 325.88,732.25 325.9,731.86 325.92,731.47 325.95,731.09 325.97,730.7 325.99,730.31 326.01,729.93 326.03,729.54 326.05,729.15 326.08,728.77 326.1,728.38 326.12,727.99 326.14,727.6 326.16,727.22 326.18,726.83 326.21,726.44 326.23,726.06 326.25,725.67 326.27,725.28 326.29,724.9 326.31,724.51 326.33,724.12 326.36,723.74 326.38,723.35 326.4,722.96 326.42,722.57 326.44,722.19 326.46,721.8 326.48,721.41 326.5,721.03 326.53,720.64 326.55,720.25 326.57,719.87 326.59,719.48 326.61,719.09 326.63,718.71 326.65,718.32 326.67,717.93 326.69,717.54 326.71,717.16 326.74,716.77 326.76,716.38 326.78,716 326.8,715.61 326.82,715.22 326.84,714.84 326.86,714.45 326.88,714.06 326.9,713.67 326.92,713.29 326.94,712.9 326.96,712.51 326.98,712.13 327,711.74 327.02,711.35 327.05,710.97 327.07,710.58 327.09,710.19 327.11,709.81 327.13,709.42 327.15,709.03 327.17,708.64 327.19,708.26 327.21,707.87 327.23,707.48 327.25,707.1 327.27,706.71 327.29,706.32 327.31,705.94 327.33,705.55 327.35,705.16 327.37,704.77 327.39,704.39 327.4,704" fill="none" stroke="#000" stroke-width="2.0" stroke-linejoin="round" stroke-linecap="butt" />
<polyline points="405.4,781 405.38,780.61 405.36,780.23 405.34,779.84 405.32,779.45 405.3,779.06 405.28,778.68 405.26,778.29 405.24,777.9 405.22,777.52 405.2,777.13 405.18,776.74 405.16,776.36 405.14,775.97 405.12,775.58 405.1,775.2 405.08,774.81 405.06,774.42 405.04,774.03 405.02,773.65 405,773.26 404.98,772.87 404.96,772.49 404.94,772.1 404.92,771.71 404.9,771.33 404.88,770.94 404.86,770.55 404.83,770.16 404.81,769.78 404.79,769.39 404.77,769 404.75,768.62 404.73,768.23 404.71,767.84 404.69,767.46 404.67,767.07 404.65,766.68 404.63,766.29 404.61,765.91 404.58,765.52 404.56,765.13 404.54,764.75 404.52,764.36 404.5,763.97 404.48,763.59 404.46,763.2 404.44,762.81 404.41,762.43 404.39,762.04 404.37,761.65 404.35,761.26 404.33,760.88 404.31,760.49 404.29,760.1 404.27,759.72 404.24,759.33 404.22,758.94 404.2,758.56 404.18,758.17 404.16,757.78 404.14,757.4 404.12,757.01 404.09,756.62 404.07,756.23 404.05,755.85 404.03,755.46 404.01,755.07 403.99,754.69 403.96,754.3 403.94,753.91 403.92,753.53 403.9,753.14 403.88,752.75 403.86,752.37 403.83,751.98 403.81,751.59 403.79,751.21 403.77,750.82 403.75,750.43 403.72,750.04 403.7,749.66 403.68,749.27 403.66,748.88 403.64,748.5 403.62,748.11 403.59,747.72 403.57,747.34 403.55,746.95 403.53,746.56 403.51,746.18 403.48,745.79 403.46,745.4 403.44,745.01 403.42,744.63 403.4,744.24 403.37,743.85 403.35,743.47 403.33,743.08 403.31,742.69 403.29,742.31 403.27,741.92 403.24,741.53 403.22,741.15 403.2,740.76 403.18,740.37 403.16,739.99 403.13,739.6 403.11,739.21 403.09,738.82 403.07,738.44 403.05,738.05 403.02,737.66 403,737.28 402.98,736.89 402.96,736.5 402.94,736.12 402.92,735.73 402.89,735.34 402.87,734.96 402.85,734.57 402.83,734.18 402.81,733.79 402.78,733.41 402.76,733.02 402.74,732.63 402.72,732.25 402.7,731.86 402.68,731.47 402.65,731.09 402.63,730.7 402.61,730.31 402.59,729.93 402.57,729.54 402.55,729.15 402.52,728.77 402.5,728.38 402.48,727.99 402.46,727.6 402.44,727.22 402.42,726.83 402.39,726.44 402.37,726.06 402.35,725.67 402.33,725.28 402.31,724.9 402.29,724.51 402.27,724.12 402.24,723.74 402.22,723.35 402.2,722.96 402.18,722.57 402.16,722.19 402.14,721.8 402.12,721.41 402.1,721.03 402.07,720.64 402.05,720.25 402.03,719.87 402.01,719.48 401.99,719.09 401.97,718.71 401.95,718.32 401.93,717.93 401.91,717.54 401.89,717.16 401.86,716.77 401.84,716.38 401.82,716 401.8,715.61 401.78,715.22 401.76,714.84 401.74,714.45 401.72,714.06 401.7,713.67 401.68,713.29 401.66,712.9 401.64,712.51 401.62,712.13 401.6,711.74 401.58,711.35 401.55,710.97 401.53,710.58 401.51,710.19 401.49,709.81 401.47,709.42 401.45,709.03 401.43,708.64 401.41,708.26 401.39,707.87 401.37,707.48 401.35,707.1 401.33,706.71 401.31,706.32 401.29,705.94 401.27,705.55 401.25,705.16 401.23,704.77 401.21,704.39 401.2,704" fill="none" stroke="#000" stroke-width="2.0" stroke-linejoin="round" stroke-linecap="butt" />
<polyline points="327.35,703.2 328.6,703.62 329.86,704.03 331.11,704.42 332.36,704.79 333.61,705.15 334.87,705.5 336.12,705.84 337.37,706.15 338.62,706.46 339.88,706.75 341.13,707.02 342.38,707.28 343.63,707.53 344.89,707.76 346.14,707.98 347.39,708.18 348.64,708.37 349.9,708.54 351.15,708.7 352.4,708.85 353.65,708.98 354.91,709.09 356.16,709.19 357.41,709.28 358.66,709.35 359.92,709.41 361.17,709.45 362.42,709.48 363.67,709.5 364.93,709.5 366.18,709.48 367.43,709.45 368.68,709.41 369.94,709.35 371.19,709.28 372.44,709.19 373.69,709.09 374.95,708.98 376.2,708.85 377.45,708.7 378.7,708.54 379.96,708.37 381.21,708.18 382.46,707.98 383.71,707.76 384.97,707.53 386.22,707.28 387.47,707.02 388.72,706.75 389.98,706.46 391.23,706.15 392.48,705.84 393.73,705.5 394.99,705.15 396.24,704.79 397.49,704.42 398.74,704.03 400,703.62 401.25,703.2" fill="none" stroke="#000" stroke-width="2.0" stroke-linejoin="round" stroke-linecap="butt" />
<polyline points="110.3,703.2 327.4,703.2" fill="none" stroke="#d00000" stroke-width="1.8" stroke-linejoin="round" stroke-linecap="butt" />
<polyline points="401.3,703.2 618.3,703.2" fill="none" stroke="#d00000" stroke-width="1.8" stroke-linejoin="round" stroke-linecap="butt" />
<polyline points="327.44,703.24 327.41,704.51 327.39,705.78 327.36,707.04 327.35,708.31 327.33,709.58 327.32,710.85 327.31,712.12 327.3,713.39 327.3,714.66 327.3,715.93 327.3,717.2 327.31,718.47 327.32,719.74 327.33,721.02 327.34,722.29 327.36,723.57 327.38,724.84 327.4,726.11 327.42,727.39 327.45,728.67 327.48,729.94 327.51,731.22 327.55,732.49 327.59,733.77 327.63,735.05 327.67,736.33 327.72,737.6 327.77,738.88 327.82,740.16 327.87,741.44 327.93,742.71 327.99,743.99 328.05,745.27 328.12,746.55 328.18,747.83 328.25,749.11 328.32,750.38 328.4,751.66 328.48,752.94 328.56,754.22 328.64,755.5 328.72,756.78 328.81,758.05 328.9,759.33 328.99,760.61 329.09,761.89 329.18,763.16 329.28,764.44 329.38,765.72 329.49,767 329.6,768.27 329.7,769.55 329.82,770.82 329.93,772.1 330.04,773.37 330.16,774.65 330.28,775.92 330.41,777.2 330.53,778.47 330.66,779.75 330.79,781.02 330.92,782.29 331.05,783.56 331.19,784.83 331.33,786.1 331.47,787.37 331.61,788.64 331.76,789.91 331.9,791.18 332.05,792.45 332.2,793.71 332.36,794.98 332.51,796.25 332.67,797.51 332.83,798.78 332.99,800.04 333.16,801.3 333.32,802.56 333.49,803.82 333.66,805.08 333.83,806.34 334.01,807.6 334.18,808.86 334.36,810.12 334.54,811.37 334.72,812.63 334.91,813.88 335.09,815.13 335.28,816.38 335.47,817.63 335.66,818.88 335.85,820.13 336.05,821.38 336.25,822.62 336.45,823.87 336.65,825.11 336.86,826.36 337.07,827.6 337.28,828.84 337.51,830.08 337.73,831.32 337.96,832.56 338.2,833.8 338.44,835.03 338.69,836.27 338.95,837.51 339.22,838.74 339.49,839.98 339.78,841.21 340.07,842.45 340.37,843.68 340.68,844.91 341,846.14 341.33,847.37 341.68,848.61 342.03,849.84 342.4,851.07 342.78,852.3 343.17,853.53 343.57,854.76 343.99,855.99 344.42,857.22 344.87,858.45 345.33,859.68 345.81,860.91 346.3,862.14 346.81,863.37 347.33,864.59 347.87,865.82 348.43,867.05 349.01,868.28 349.61,869.51 350.22,870.74 350.85,871.97 351.51,873.18 352.19,874.38 352.89,875.54 353.63,876.66 354.39,877.74 355.19,878.76 356.02,879.7 356.88,880.58 357.79,881.37 358.73,882.06 359.7,882.66 360.69,883.15 361.7,883.52 362.71,883.77 363.74,883.9 364.76,883.88 365.77,883.73 366.78,883.45 367.78,883.05 368.77,882.53 369.75,881.92 370.71,881.21 371.65,880.41 372.57,879.53 373.47,878.58 374.35,877.57 375.2,876.51 376.02,875.4 376.82,874.26 377.58,873.08 378.3,871.89 378.99,870.68 379.65,869.47 380.26,868.26 380.84,867.05 381.39,865.83 381.9,864.62 382.39,863.4 382.84,862.19 383.28,860.97 383.69,859.75 384.08,858.53 384.45,857.31 384.81,856.09 385.15,854.87 385.48,853.64 385.79,852.42 386.1,851.19 386.41,849.96 386.71,848.73 387.01,847.5 387.3,846.27 387.59,845.04 387.88,843.8 388.17,842.57 388.45,841.33 388.72,840.09 389,838.86 389.27,837.62 389.54,836.37 389.8,835.13 390.06,833.89 390.32,832.64 390.57,831.4 390.82,830.15 391.07,828.9 391.31,827.66 391.55,826.41 391.79,825.16 392.02,823.9 392.25,822.65 392.48,821.4 392.7,820.14 392.92,818.89 393.14,817.63 393.36,816.38 393.57,815.12 393.77,813.86 393.98,812.6 394.18,811.34 394.38,810.08 394.57,808.82 394.77,807.56 394.96,806.3 395.14,805.04 395.32,803.77 395.5,802.51 395.68,801.25 395.85,799.98 396.02,798.72 396.19,797.45 396.35,796.18 396.51,794.92 396.67,793.65 396.83,792.38 396.98,791.11 397.13,789.85 397.27,788.58 397.42,787.31 397.56,786.04 397.69,784.77 397.83,783.5 397.96,782.23 398.09,780.96 398.21,779.69 398.33,778.42 398.45,777.15 398.57,775.87 398.68,774.6 398.8,773.33 398.9,772.06 399.01,770.78 399.11,769.51 399.21,768.24 399.31,766.97 399.41,765.69 399.5,764.42 399.59,763.15 399.68,761.87 399.76,760.6 399.85,759.32 399.93,758.05 400,756.77 400.08,755.5 400.15,754.22 400.22,752.95 400.29,751.67 400.36,750.4 400.42,749.12 400.48,747.85 400.54,746.57 400.6,745.3 400.65,744.02 400.7,742.75 400.75,741.47 400.8,740.19 400.85,738.92 400.89,737.64 400.93,736.37 400.97,735.09 401.01,733.81 401.04,732.54 401.08,731.26 401.11,729.99 401.14,728.71 401.17,727.43 401.19,726.16 401.22,724.88 401.24,723.61 401.26,722.33 401.27,721.06 401.29,719.78 401.31,718.51 401.32,717.23 401.33,715.95 401.34,714.68 401.35,713.4 401.35,712.13 401.36,710.85 401.36,709.58 401.36,708.31 401.36,707.03 401.36,705.76 401.35,704.48 401.35,703.21" fill="none" stroke="#d00000" stroke-width="2.0" stroke-linejoin="round" stroke-linecap="butt" />
<line x1="756.5" y1="905" x2="756.5" y2="911.8" stroke="#000" stroke-width="1.2"/>
<line x1="756.5" y1="501.5" x2="756.5" y2="508" stroke="#000" stroke-width="1.2"/>
<line x1="1010.5" y1="905" x2="1010.5" y2="911.8" stroke="#000" stroke-width="1.2"/>
<line x1="1010.5" y1="501.5" x2="1010.5" y2="508" stroke="#000" stroke-width="1.2"/>
<line x1="1264.5" y1="905" x2="1264.5" y2="911.8" stroke="#000" stroke-width="1.2"/>
<line x1="1264.5" y1="501.5" x2="1264.5" y2="508" stroke="#000" stroke-width="1.2"/>
<line x1="883.5" y1="905" x2="883.5" y2="908.4" stroke="#000" stroke-width="1.2"/>
<line x1="883.5" y1="501.5" x2="883.5" y2="504.7" stroke="#000" stroke-width="1.2"/>
<line x1="1137.5" y1="905" x2="1137.5" y2="908.4" stroke="#000" stroke-width="1.2"/>
<line x1="1137.5" y1="501.5" x2="1137.5" y2="504.7" stroke="#000" stroke-width="1.2"/>
<line x1="749.7" y1="905" x2="756.5" y2="905" stroke="#000" stroke-width="1.2"/>
<line x1="1258" y1="905" x2="1264.5" y2="905" stroke="#000" stroke-width="1.2"/>
<line x1="749.7" y1="804.12" x2="756.5" y2="804.12" stroke="#000" stroke-width="1.2"/>
<line x1="1258" y1="804.12" x2="1264.5" y2="804.12" stroke="#000" stroke-width="1.2"/>
<line x1="749.7" y1="703.25" x2="756.5" y2="703.25" stroke="#000" stroke-width="1.2"/>
<line x1="1258" y1="703.25" x2="1264.5" y2="703.25" stroke="#000" stroke-width="1.2"/>
<line x1="749.7" y1="602.38" x2="756.5" y2="602.38" stroke="#000" stroke-width="1.2"/>
<line x1="1258" y1="602.38" x2="1264.5" y2="602.38" stroke="#000" stroke-width="1.2"/>
<line x1="749.7" y1="501.5" x2="756.5" y2="501.5" stroke="#000" stroke-width="1.2"/>
<line x1="1258" y1="501.5" x2="1264.5" y2="501.5" stroke="#000" stroke-width="1.2"/>
<line x1="752.3" y1="854.56" x2="756.5" y2="854.56" stroke="#000" stroke-width="1.2"/>
<line x1="1261.3" y1="854.56" x2="1264.5" y2="854.56" stroke="#000" stroke-width="1.2"/>
<line x1="752.3" y1="753.69" x2="756.5" y2="753.69" stroke="#000" stroke-width="1.2"/>
<line x1="1261.3" y1="753.69" x2="1264.5" y2="753.69" stroke="#000" stroke-width="1.2"/>
<line x1="752.3" y1="652.81" x2="756.5" y2="652.81" stroke="#000" stroke-width="1.2"/>
<line x1="1261.3" y1="652.81" x2="1264.5" y2="652.81" stroke="#000" stroke-width="1.2"/>
<line x1="752.3" y1="551.94" x2="756.5" y2="551.94" stroke="#000" stroke-width="1.2"/>
<line x1="1261.3" y1="551.94" x2="1264.5" y2="551.94" stroke="#000" stroke-width="1.2"/>
<rect x="756.5" y="501.5" width="508" height="403.5" fill="none" stroke="#000" stroke-width="1.5"/>
<polyline points="756.45,676.35 757.05,676.68 757.65,676.99 758.25,677.28 758.86,677.55 759.46,677.81 760.07,678.05 760.67,678.26 761.28,678.47 761.89,678.65 762.49,678.82 763.1,678.97 763.71,679.11 764.32,679.23 764.93,679.34 765.55,679.44 766.16,679.52 766.77,679.58 767.39,679.64 768,679.68 768.61,679.71 769.23,679.73 769.85,679.74 770.46,679.74 771.08,679.72 771.7,679.7 772.31,679.67 772.93,679.63 773.55,679.58 774.17,679.52 774.79,679.45 775.41,679.38 776.02,679.3 776.64,679.22 777.26,679.13 777.88,679.03 778.5,678.93 779.12,678.82 779.74,678.71 780.36,678.6 780.98,678.48 781.6,678.36 782.22,678.24 782.84,678.11 783.46,677.99 784.08,677.86 784.7,677.73 785.32,677.6 785.94,677.47 786.56,677.34 787.18,677.21 787.79,677.08 788.41,676.94 789.03,676.81 789.65,676.68 790.27,676.54 790.88,676.4 791.5,676.26 792.12,676.13 792.74,675.99 793.35,675.85 793.97,675.7 794.59,675.56 795.2,675.42 795.82,675.28 796.44,675.13 797.05,674.99 797.67,674.84 798.28,674.69 798.9,674.55 799.51,674.4 800.13,674.25 800.74,674.1 801.36,673.95 801.97,673.8 802.59,673.64 803.2,673.49 803.82,673.34 804.43,673.18 805.05,673.03 805.66,672.87 806.27,672.72 806.89,672.56 807.5,672.4 808.11,672.24 808.73,672.08 809.34,671.92 809.95,671.76 810.57,671.6 811.18,671.44 811.79,671.28 812.4,671.12 813.01,670.95 813.63,670.79 814.24,670.62 814.85,670.46 815.46,670.29 816.07,670.13 816.68,669.96 817.29,669.79 817.91,669.63 818.52,669.46 819.13,669.29 819.74,669.12 820.35,668.95 820.96,668.78 821.57,668.61 822.18,668.44 822.79,668.27 823.4,668.09 824,667.92 824.61,667.75 825.22,667.57 825.83,667.4 826.44,667.23 827.05,667.05 827.66,666.87 828.27,666.7 828.87,666.52 829.48,666.35 830.09,666.17 830.7,665.99 831.3,665.81 831.91,665.64 832.52,665.46 833.12,665.28 833.73,665.1 834.34,664.92 834.94,664.74 835.55,664.56 836.16,664.38 836.76,664.2 837.37,664.02 837.97,663.83 838.58,663.65 839.18,663.47 839.79,663.29 840.39,663.1 841,662.92 841.6,662.73 842.21,662.55 842.81,662.36 843.42,662.18 844.02,661.99 844.62,661.8 845.23,661.61 845.83,661.43 846.43,661.24 847.03,661.05 847.64,660.86 848.24,660.67 848.84,660.48 849.44,660.29 850.04,660.1 850.65,659.9 851.25,659.71 851.85,659.52 852.45,659.32 853.05,659.13 853.65,658.94 854.25,658.74 854.85,658.54 855.45,658.35 856.05,658.15 856.65,657.95 857.25,657.75 857.85,657.56 858.45,657.36 859.04,657.16 859.64,656.96 860.24,656.76 860.84,656.55 861.44,656.35 862.03,656.15 862.63,655.94 863.23,655.74 863.82,655.54 864.42,655.33 865.02,655.12 865.61,654.92 866.21,654.71 866.8,654.5 867.4,654.29 867.99,654.09 868.59,653.88 869.18,653.67 869.77,653.45 870.37,653.24 870.96,653.03 871.55,652.82 872.15,652.6 872.74,652.39 873.33,652.17 873.92,651.96 874.52,651.74 875.11,651.52 875.7,651.31 876.29,651.09 876.88,650.87 877.47,650.65 878.06,650.43 878.65,650.2 879.24,649.98 879.83,649.76 880.42,649.54 881.01,649.31 881.6,649.09 882.19,648.86 882.77,648.63 883.36,648.41 883.95,648.18 884.54,647.95 885.12,647.72 885.71,647.49 886.29,647.26 886.88,647.02 887.47,646.79 888.05,646.56 888.64,646.32 889.22,646.09 889.8,645.85 890.39,645.61 890.97,645.38 891.56,645.14 892.14,644.9 892.72,644.66 893.3,644.42 893.89,644.17 894.47,643.93 895.05,643.69 895.63,643.44 896.21,643.2 896.79,642.95 897.37,642.7 897.95,642.45 898.53,642.21 899.11,641.96 899.69,641.71 900.27,641.45 900.84,641.2 901.42,640.95 902,640.69 902.58,640.44 903.15,640.18 903.73,639.92 904.31,639.67 904.88,639.41 905.46,639.15 906.03,638.89 906.61,638.63 907.18,638.36 907.75,638.1 908.33,637.83 908.9,637.57 909.47,637.3 910.04,637.04 910.62,636.77 911.19,636.5 911.76,636.23 912.33,635.96 912.9,635.68 913.47,635.41 914.04,635.14 914.61,634.86 915.18,634.58 915.75,634.31 916.32,634.03 916.88,633.75 917.45,633.47 918.02,633.19 918.58,632.91 919.15,632.62 919.72,632.34 920.28,632.05 920.85,631.76 921.41,631.48 921.97,631.19 922.54,630.9 923.1,630.61 923.66,630.31 924.22,630.02 924.78,629.72 925.35,629.43 925.9,629.13 926.46,628.83 927.02,628.53 927.58,628.23 928.14,627.93 928.69,627.62 929.25,627.32 929.81,627.01 930.36,626.7 930.92,626.39 931.47,626.08 932.02,625.77 932.57,625.46 933.12,625.14 933.67,624.82 934.22,624.51 934.77,624.19 935.32,623.87 935.87,623.54 936.41,623.22 936.96,622.89 937.5,622.57 938.05,622.24 938.59,621.91 939.13,621.58 939.67,621.24 940.21,620.91 940.75,620.57 941.29,620.23 941.83,619.89 942.36,619.55 942.9,619.21 943.43,618.86 943.97,618.52 944.5,618.17 945.03,617.82 945.56,617.47 946.09,617.11 946.62,616.76 947.14,616.4 947.67,616.04 948.19,615.68 948.72,615.32 949.24,614.95 949.76,614.58 950.27,614.21 950.79,613.84 951.3,613.46 951.81,613.08 952.31,612.7 952.81,612.32 953.31,611.93 953.8,611.53 954.29,611.14 954.78,610.74 955.26,610.33 955.73,609.93 956.2,609.51 956.67,609.1 957.13,608.67 957.58,608.25 958.03,607.81 958.47,607.38 958.9,606.94 959.33,606.49 959.75,606.04 960.16,605.58 960.57,605.11 960.97,604.64 961.36,604.17 961.74,603.69 962.11,603.2 962.48,602.7 962.83,602.2 963.18,601.69 963.52,601.18 963.85,600.66 964.17,600.13 964.48,599.6 964.78,599.06 965.08,598.52 965.36,597.97 965.64,597.41 965.91,596.85 966.17,596.29 966.41,595.71 966.66,595.14 966.89,594.56 967.11,593.97 967.33,593.38 967.53,592.79 967.73,592.19 967.91,591.59 968.09,590.98 968.26,590.37 968.42,589.75 968.57,589.13 968.72,588.51 968.85,587.88 968.98,587.25 969.09,586.62 969.2,585.98 969.3,585.34 969.38,584.7 969.46,584.06 969.54,583.41 969.6,582.76 969.65,582.11 969.69,581.45 969.73,580.79 969.75,580.13 969.77,579.47 969.78,578.81 969.78,578.14 969.77,577.47 969.75,576.81 969.72,576.14" fill="none" stroke="#000" stroke-width="2.2" stroke-linejoin="round" stroke-linecap="butt" />
<polyline points="1264.55,676.35 1263.95,676.68 1263.35,676.99 1262.75,677.28 1262.14,677.55 1261.54,677.81 1260.93,678.05 1260.33,678.26 1259.72,678.47 1259.11,678.65 1258.51,678.82 1257.9,678.97 1257.29,679.11 1256.68,679.23 1256.07,679.34 1255.45,679.44 1254.84,679.52 1254.23,679.58 1253.61,679.64 1253,679.68 1252.39,679.71 1251.77,679.73 1251.15,679.74 1250.54,679.74 1249.92,679.72 1249.3,679.7 1248.69,679.67 1248.07,679.63 1247.45,679.58 1246.83,679.52 1246.21,679.45 1245.59,679.38 1244.98,679.3 1244.36,679.22 1243.74,679.13 1243.12,679.03 1242.5,678.93 1241.88,678.82 1241.26,678.71 1240.64,678.6 1240.02,678.48 1239.4,678.36 1238.78,678.24 1238.16,678.11 1237.54,677.99 1236.92,677.86 1236.3,677.73 1235.68,677.6 1235.06,677.47 1234.44,677.34 1233.82,677.21 1233.21,677.08 1232.59,676.94 1231.97,676.81 1231.35,676.68 1230.73,676.54 1230.12,676.4 1229.5,676.26 1228.88,676.13 1228.26,675.99 1227.65,675.85 1227.03,675.7 1226.41,675.56 1225.8,675.42 1225.18,675.28 1224.56,675.13 1223.95,674.99 1223.33,674.84 1222.72,674.69 1222.1,674.55 1221.49,674.4 1220.87,674.25 1220.26,674.1 1219.64,673.95 1219.03,673.8 1218.41,673.64 1217.8,673.49 1217.18,673.34 1216.57,673.18 1215.95,673.03 1215.34,672.87 1214.73,672.72 1214.11,672.56 1213.5,672.4 1212.89,672.24 1212.27,672.08 1211.66,671.92 1211.05,671.76 1210.43,671.6 1209.82,671.44 1209.21,671.28 1208.6,671.12 1207.99,670.95 1207.37,670.79 1206.76,670.62 1206.15,670.46 1205.54,670.29 1204.93,670.13 1204.32,669.96 1203.71,669.79 1203.09,669.63 1202.48,669.46 1201.87,669.29 1201.26,669.12 1200.65,668.95 1200.04,668.78 1199.43,668.61 1198.82,668.44 1198.21,668.27 1197.6,668.09 1197,667.92 1196.39,667.75 1195.78,667.57 1195.17,667.4 1194.56,667.23 1193.95,667.05 1193.34,666.87 1192.73,666.7 1192.13,666.52 1191.52,666.35 1190.91,666.17 1190.3,665.99 1189.7,665.81 1189.09,665.64 1188.48,665.46 1187.88,665.28 1187.27,665.1 1186.66,664.92 1186.06,664.74 1185.45,664.56 1184.84,664.38 1184.24,664.2 1183.63,664.02 1183.03,663.83 1182.42,663.65 1181.82,663.47 1181.21,663.29 1180.61,663.1 1180,662.92 1179.4,662.73 1178.79,662.55 1178.19,662.36 1177.58,662.18 1176.98,661.99 1176.38,661.8 1175.77,661.61 1175.17,661.43 1174.57,661.24 1173.97,661.05 1173.36,660.86 1172.76,660.67 1172.16,660.48 1171.56,660.29 1170.96,660.1 1170.35,659.9 1169.75,659.71 1169.15,659.52 1168.55,659.32 1167.95,659.13 1167.35,658.94 1166.75,658.74 1166.15,658.54 1165.55,658.35 1164.95,658.15 1164.35,657.95 1163.75,657.75 1163.15,657.56 1162.55,657.36 1161.96,657.16 1161.36,656.96 1160.76,656.76 1160.16,656.55 1159.56,656.35 1158.97,656.15 1158.37,655.94 1157.77,655.74 1157.18,655.54 1156.58,655.33 1155.98,655.12 1155.39,654.92 1154.79,654.71 1154.2,654.5 1153.6,654.29 1153.01,654.09 1152.41,653.88 1151.82,653.67 1151.23,653.45 1150.63,653.24 1150.04,653.03 1149.45,652.82 1148.85,652.6 1148.26,652.39 1147.67,652.17 1147.08,651.96 1146.48,651.74 1145.89,651.52 1145.3,651.31 1144.71,651.09 1144.12,650.87 1143.53,650.65 1142.94,650.43 1142.35,650.2 1141.76,649.98 1141.17,649.76 1140.58,649.54 1139.99,649.31 1139.4,649.09 1138.81,648.86 1138.23,648.63 1137.64,648.41 1137.05,648.18 1136.46,647.95 1135.88,647.72 1135.29,647.49 1134.71,647.26 1134.12,647.02 1133.53,646.79 1132.95,646.56 1132.36,646.32 1131.78,646.09 1131.2,645.85 1130.61,645.61 1130.03,645.38 1129.44,645.14 1128.86,644.9 1128.28,644.66 1127.7,644.42 1127.11,644.17 1126.53,643.93 1125.95,643.69 1125.37,643.44 1124.79,643.2 1124.21,642.95 1123.63,642.7 1123.05,642.45 1122.47,642.21 1121.89,641.96 1121.31,641.71 1120.73,641.45 1120.16,641.2 1119.58,640.95 1119,640.69 1118.42,640.44 1117.85,640.18 1117.27,639.92 1116.69,639.67 1116.12,639.41 1115.54,639.15 1114.97,638.89 1114.39,638.63 1113.82,638.36 1113.25,638.1 1112.67,637.83 1112.1,637.57 1111.53,637.3 1110.96,637.04 1110.38,636.77 1109.81,636.5 1109.24,636.23 1108.67,635.96 1108.1,635.68 1107.53,635.41 1106.96,635.14 1106.39,634.86 1105.82,634.58 1105.25,634.31 1104.68,634.03 1104.12,633.75 1103.55,633.47 1102.98,633.19 1102.42,632.91 1101.85,632.62 1101.28,632.34 1100.72,632.05 1100.15,631.76 1099.59,631.48 1099.03,631.19 1098.46,630.9 1097.9,630.61 1097.34,630.31 1096.78,630.02 1096.22,629.72 1095.65,629.43 1095.1,629.13 1094.54,628.83 1093.98,628.53 1093.42,628.23 1092.86,627.93 1092.31,627.62 1091.75,627.32 1091.19,627.01 1090.64,626.7 1090.08,626.39 1089.53,626.08 1088.98,625.77 1088.43,625.46 1087.88,625.14 1087.33,624.82 1086.78,624.51 1086.23,624.19 1085.68,623.87 1085.13,623.54 1084.59,623.22 1084.04,622.89 1083.5,622.57 1082.95,622.24 1082.41,621.91 1081.87,621.58 1081.33,621.24 1080.79,620.91 1080.25,620.57 1079.71,620.23 1079.17,619.89 1078.64,619.55 1078.1,619.21 1077.57,618.86 1077.03,618.52 1076.5,618.17 1075.97,617.82 1075.44,617.47 1074.91,617.11 1074.38,616.76 1073.86,616.4 1073.33,616.04 1072.81,615.68 1072.28,615.32 1071.76,614.95 1071.24,614.58 1070.73,614.21 1070.21,613.84 1069.7,613.46 1069.19,613.08 1068.69,612.7 1068.19,612.32 1067.69,611.93 1067.2,611.53 1066.71,611.14 1066.22,610.74 1065.74,610.33 1065.27,609.93 1064.8,609.51 1064.33,609.1 1063.87,608.67 1063.42,608.25 1062.97,607.81 1062.53,607.38 1062.1,606.94 1061.67,606.49 1061.25,606.04 1060.84,605.58 1060.43,605.11 1060.03,604.64 1059.64,604.17 1059.26,603.69 1058.89,603.2 1058.52,602.7 1058.17,602.2 1057.82,601.69 1057.48,601.18 1057.15,600.66 1056.83,600.13 1056.52,599.6 1056.22,599.06 1055.92,598.52 1055.64,597.97 1055.36,597.41 1055.09,596.85 1054.83,596.29 1054.59,595.71 1054.34,595.14 1054.11,594.56 1053.89,593.97 1053.67,593.38 1053.47,592.79 1053.27,592.19 1053.09,591.59 1052.91,590.98 1052.74,590.37 1052.58,589.75 1052.43,589.13 1052.28,588.51 1052.15,587.88 1052.02,587.25 1051.91,586.62 1051.8,585.98 1051.7,585.34 1051.62,584.7 1051.54,584.06 1051.46,583.41 1051.4,582.76 1051.35,582.11 1051.31,581.45 1051.27,580.79 1051.25,580.13 1051.23,579.47 1051.22,578.81 1051.22,578.14 1051.23,577.47 1051.25,576.81 1051.28,576.14" fill="none" stroke="#000" stroke-width="2.2" stroke-linejoin="round" stroke-linecap="butt" />
<polyline points="971.8,501.5 972.3,540 972.8,702.5" fill="none" stroke="#000" stroke-width="1.6" stroke-linejoin="round" stroke-linecap="butt" />
<polyline points="1049.2,501.5 1048.7,540 1048.2,702.5" fill="none" stroke="#000" stroke-width="1.6" stroke-linejoin="round" stroke-linecap="butt" />
<polyline points="969.6,829.2 970.6,850 971.6,880 972.3,905" fill="none" stroke="#000" stroke-width="1.9" stroke-linejoin="round" stroke-linecap="butt" />
<polyline points="1051.6,829.2 1050.6,845 1049.6,875 1049.2,905" fill="none" stroke="#000" stroke-width="1.9" stroke-linejoin="round" stroke-linecap="butt" />
<polyline points="973.65,702.8 974.9,703.06 976.15,703.31 977.4,703.55 978.65,703.79 979.9,704.01 981.14,704.23 982.39,704.43 983.64,704.63 984.89,704.82 986.14,705 987.39,705.17 988.64,705.33 989.89,705.48 991.14,705.62 992.39,705.76 993.64,705.88 994.89,706 996.13,706.11 997.38,706.21 998.63,706.3 999.88,706.38 1001.13,706.45 1002.38,706.51 1003.63,706.56 1004.88,706.61 1006.13,706.65 1007.38,706.67 1008.63,706.69 1009.88,706.7 1011.12,706.7 1012.37,706.69 1013.62,706.67 1014.87,706.65 1016.12,706.61 1017.37,706.56 1018.62,706.51 1019.87,706.45 1021.12,706.38 1022.37,706.3 1023.62,706.21 1024.87,706.11 1026.11,706 1027.36,705.88 1028.61,705.76 1029.86,705.62 1031.11,705.48 1032.36,705.33 1033.61,705.17 1034.86,705 1036.11,704.82 1037.36,704.63 1038.61,704.43 1039.86,704.23 1041.1,704.01 1042.35,703.79 1043.6,703.55 1044.85,703.31 1046.1,703.06 1047.35,702.8" fill="none" stroke="#000" stroke-width="2.0" stroke-linejoin="round" stroke-linecap="butt" />
<polyline points="756.5,702.8 973.7,702.8" fill="none" stroke="#d00000" stroke-width="1.8" stroke-linejoin="round" stroke-linecap="butt" />
<polyline points="1047.4,702.8 1264.5,702.8" fill="none" stroke="#d00000" stroke-width="1.8" stroke-linejoin="round" stroke-linecap="butt" />
<polyline points="973.67,702.83 973.65,702.07 973.63,701.31 973.62,700.55 973.61,699.8 973.6,699.05 973.59,698.29 973.59,697.55 973.59,696.8 973.6,696.05 973.6,695.31 973.61,694.57 973.63,693.83 973.64,693.09 973.66,692.35 973.68,691.61 973.7,690.87 973.73,690.14 973.75,689.41 973.78,688.67 973.82,687.94 973.85,687.21 973.89,686.48 973.93,685.75 973.97,685.02 974.01,684.29 974.06,683.57 974.11,682.84 974.16,682.11 974.21,681.39 974.26,680.66 974.32,679.94 974.37,679.21 974.43,678.49 974.5,677.76 974.56,677.04 974.62,676.31 974.69,675.59 974.76,674.86 974.83,674.14 974.9,673.41 974.97,672.68 975.04,671.96 975.12,671.23 975.19,670.5 975.27,669.78 975.35,669.05 975.43,668.32 975.51,667.59 975.59,666.86 975.67,666.13 975.76,665.4 975.84,664.66 975.93,663.93 976.02,663.19 976.1,662.46 976.19,661.72 976.28,660.98 976.37,660.24 976.46,659.5 976.55,658.76 976.65,658.01 976.74,657.27 976.83,656.52 976.93,655.78 977.03,655.03 977.13,654.28 977.24,653.53 977.34,652.79 977.45,652.04 977.56,651.29 977.68,650.55 977.79,649.8 977.92,649.05 978.04,648.31 978.17,647.56 978.3,646.82 978.44,646.08 978.58,645.34 978.73,644.6 978.88,643.86 979.04,643.12 979.21,642.39 979.37,641.66 979.55,640.93 979.73,640.2 979.92,639.47 980.11,638.75 980.31,638.03 980.52,637.31 980.73,636.6 980.95,635.89 981.18,635.18 981.42,634.48 981.66,633.78 981.92,633.08 982.18,632.39 982.45,631.7 982.73,631.01 983.02,630.33 983.31,629.66 983.62,628.98 983.94,628.32 984.26,627.65 984.6,627 984.94,626.35 985.3,625.7 985.67,625.06 986.05,624.42 986.44,623.79 986.84,623.17 987.25,622.55 987.67,621.94 988.11,621.33 988.56,620.73 989.02,620.14 989.49,619.55 989.97,618.97 990.47,618.4 990.98,617.84 991.51,617.28 992.04,616.74 992.59,616.21 993.15,615.69 993.73,615.18 994.32,614.68 994.92,614.2 995.53,613.73 996.15,613.28 996.79,612.84 997.44,612.43 998.11,612.02 998.78,611.64 999.46,611.27 1000.15,610.92 1000.85,610.59 1001.55,610.28 1002.26,609.99 1002.98,609.72 1003.7,609.47 1004.42,609.24 1005.15,609.03 1005.87,608.84 1006.6,608.68 1007.33,608.53 1008.05,608.41 1008.77,608.31 1009.49,608.24 1010.21,608.19 1010.92,608.16 1011.62,608.16 1012.32,608.18 1013.01,608.23 1013.7,608.3 1014.37,608.4 1015.05,608.52 1015.71,608.66 1016.37,608.82 1017.02,609.01 1017.67,609.21 1018.31,609.44 1018.94,609.69 1019.56,609.95 1020.18,610.24 1020.79,610.55 1021.4,610.87 1021.99,611.21 1022.58,611.57 1023.17,611.95 1023.74,612.35 1024.31,612.76 1024.87,613.18 1025.43,613.63 1025.98,614.09 1026.52,614.56 1027.05,615.05 1027.58,615.55 1028.09,616.06 1028.6,616.59 1029.11,617.13 1029.6,617.68 1030.09,618.24 1030.57,618.82 1031.05,619.41 1031.51,620 1031.97,620.61 1032.42,621.22 1032.86,621.85 1033.29,622.48 1033.72,623.12 1034.14,623.77 1034.55,624.43 1034.95,625.1 1035.35,625.77 1035.73,626.44 1036.11,627.12 1036.48,627.81 1036.85,628.5 1037.2,629.2 1037.55,629.9 1037.88,630.6 1038.21,631.31 1038.53,632.02 1038.85,632.73 1039.15,633.44 1039.45,634.16 1039.73,634.87 1040.01,635.59 1040.28,636.3 1040.54,637.02 1040.8,637.74 1041.04,638.45 1041.28,639.17 1041.51,639.89 1041.73,640.61 1041.95,641.32 1042.16,642.04 1042.36,642.76 1042.55,643.48 1042.74,644.2 1042.92,644.92 1043.09,645.63 1043.26,646.35 1043.42,647.07 1043.57,647.79 1043.72,648.51 1043.86,649.24 1044,649.96 1044.13,650.68 1044.25,651.4 1044.37,652.12 1044.49,652.84 1044.6,653.57 1044.7,654.29 1044.8,655.01 1044.9,655.74 1044.99,656.46 1045.07,657.18 1045.15,657.91 1045.23,658.63 1045.31,659.36 1045.38,660.08 1045.44,660.81 1045.51,661.54 1045.56,662.26 1045.62,662.99 1045.67,663.72 1045.72,664.44 1045.77,665.17 1045.82,665.9 1045.86,666.63 1045.9,667.36 1045.94,668.09 1045.97,668.82 1046,669.55 1046.04,670.28 1046.07,671.01 1046.09,671.74 1046.12,672.47 1046.15,673.2 1046.17,673.94 1046.2,674.67 1046.22,675.4 1046.24,676.14 1046.26,676.87 1046.28,677.6 1046.3,678.34 1046.32,679.07 1046.34,679.81 1046.36,680.55 1046.39,681.28 1046.41,682.02 1046.43,682.76 1046.45,683.49 1046.48,684.23 1046.5,684.97 1046.53,685.71 1046.55,686.45 1046.58,687.19 1046.61,687.93 1046.64,688.67 1046.68,689.41 1046.71,690.15 1046.75,690.9 1046.79,691.64 1046.83,692.38 1046.87,693.13 1046.92,693.87 1046.97,694.61 1047.02,695.36 1047.08,696.1 1047.14,696.85 1047.2,697.6 1047.27,698.34 1047.34,699.09 1047.41,699.84 1047.49,700.59 1047.57,701.34 1047.66,702.09 1047.75,702.83" fill="none" stroke="#d00000" stroke-width="2.0" stroke-linejoin="round" stroke-linecap="butt" />
<text x="110.3" y="457.8" text-anchor="middle" font-size="32.8">0.10</text>
<text x="279.6" y="457.8" text-anchor="middle" font-size="32.8">0.15</text>
<text x="448.9" y="457.8" text-anchor="middle" font-size="32.8">0.20</text>
<text x="618.2" y="457.8" text-anchor="middle" font-size="32.8">0.25</text>
<text x="756.5" y="457.9" text-anchor="middle" font-size="32.8">0.10</text>
<text x="925.8" y="457.9" text-anchor="middle" font-size="32.8">0.15</text>
<text x="1095.1" y="457.9" text-anchor="middle" font-size="32.8">0.20</text>
<text x="1264.4" y="457.9" text-anchor="middle" font-size="32.8">0.25</text>
<text x="110.3" y="942.4" text-anchor="middle" font-size="32.8">-0.5</text>
<text x="364.3" y="942.4" text-anchor="middle" font-size="32.8">0.0</text>
<text x="618.3" y="942.4" text-anchor="middle" font-size="32.8">0.5</text>
<text x="756.5" y="942.4" text-anchor="middle" font-size="32.8">-0.5</text>
<text x="1010.5" y="942.4" text-anchor="middle" font-size="32.8">0.0</text>
<text x="1264.5" y="942.4" text-anchor="middle" font-size="32.8">0.5</text>
<text x="98" y="390.04" text-anchor="end" font-size="32.8">-0.8</text>
<text x="98" y="309.32" text-anchor="end" font-size="32.8">-0.6</text>
<text x="98" y="228.6" text-anchor="end" font-size="32.8">-0.4</text>
<text x="98" y="147.88" text-anchor="end" font-size="32.8">-0.2</text>
<text x="98" y="67.16" text-anchor="end" font-size="32.8">0.0</text>
<text x="744.6" y="385.64" text-anchor="end" font-size="32.8">0.0</text>
<text x="744.6" y="295.93" text-anchor="end" font-size="32.8">0.2</text>
<text x="744.6" y="206.22" text-anchor="end" font-size="32.8">0.4</text>
<text x="744.6" y="116.51" text-anchor="end" font-size="32.8">0.6</text>
<text x="744.6" y="26.8" text-anchor="end" font-size="32.8">0.8</text>
<text x="98" y="915" text-anchor="end" font-size="32.8">-1.0</text>
<text x="98" y="814.08" text-anchor="end" font-size="32.8">-0.5</text>
<text x="98" y="713.15" text-anchor="end" font-size="32.8">0.0</text>
<text x="98" y="612.23" text-anchor="end" font-size="32.8">0.5</text>
<text x="98" y="511.3" text-anchor="end" font-size="32.8">1.0</text>
<text x="745.2" y="915" text-anchor="end" font-size="32.8">-2</text>
<text x="745.2" y="814.12" text-anchor="end" font-size="32.8">-1</text>
<text x="745.2" y="713.25" text-anchor="end" font-size="32.8">0</text>
<text x="745.2" y="612.38" text-anchor="end" font-size="32.8">1</text>
<text x="745.2" y="511.5" text-anchor="end" font-size="32.8">2</text>
<text x="364.6" y="488.2" text-anchor="middle" font-size="35">ε"</text>
<text x="1010.8" y="488.2" text-anchor="middle" font-size="35">ε"</text>
<text x="364.3" y="983.5" text-anchor="middle" font-size="37">kΛ/2π</text>
<text x="1010.5" y="983.5" text-anchor="middle" font-size="37">kΛ/2π</text>
<text transform="translate(22.8,202.7) rotate(-90)" text-anchor="middle" font-size="37">η<tspan font-size="24.5" dx="2.7" dy="11">10</tspan><tspan dy="-11"></tspan></text>
<text transform="translate(674.8,202.7) rotate(-90)" text-anchor="middle" font-size="37">η<tspan font-size="24.5" dx="2.7" dy="11">20</tspan><tspan dy="-11"></tspan></text>
<text transform="translate(28.2,687.6) rotate(-90)" text-anchor="middle" font-size="37">η<tspan font-size="24.5" dx="2.7" dy="11">1k</tspan><tspan dy="-11"></tspan></text>
<text transform="translate(689,788.7) rotate(-90)" font-size="45.5">atan(<tspan font-size="38">η</tspan><tspan font-size="25.5" dy="9.7">2k</tspan><tspan font-size="36.5" dy="-9.7">)*4/π</tspan></text>
<text x="144.7" y="155.2" font-size="44">(a)</text>
<text x="795" y="145.8" font-size="44">(b)</text>
<text x="147" y="599.3" font-size="44">(c)</text>
<text x="795" y="589.5" font-size="44">(d)</text>
<rect x="416.2" y="101.5" width="178.9" height="87.3" fill="#fff" stroke="#333" stroke-width="1.1"/>
<line x1="420" y1="123" x2="480.8" y2="123" stroke="#4b4b4b" stroke-width="1.6"/>
<line x1="420" y1="165" x2="480.8" y2="165" stroke="#c83737" stroke-width="1.6"/>
<text x="486.4" y="131.8" font-size="26.3">real(η<tspan font-size="18.3" dx="3.6" dy="7" textLength="16.3" lengthAdjust="spacingAndGlyphs">10</tspan><tspan dx="0.5" dy="-7">)</tspan></text>
<text x="486.4" y="172.7" font-size="26.3">imag(η<tspan font-size="18.3" dx="3.6" dy="7" textLength="16.3" lengthAdjust="spacingAndGlyphs">10</tspan><tspan dx="0.5" dy="-7">)</tspan></text>
<rect x="1056.2" y="241.1" width="178.4" height="87.6" fill="#fff" stroke="#333" stroke-width="1.1"/>
<line x1="1060" y1="262.6" x2="1120.8" y2="262.6" stroke="#4b4b4b" stroke-width="1.6"/>
<line x1="1060" y1="304.6" x2="1120.8" y2="304.6" stroke="#c83737" stroke-width="1.6"/>
<text x="1126.4" y="271.4" font-size="26.3">real(η<tspan font-size="18.3" dx="3.6" dy="7" textLength="16.3" lengthAdjust="spacingAndGlyphs">20</tspan><tspan dx="0.5" dy="-7">)</tspan></text>
<text x="1126.4" y="312.3" font-size="26.3">imag(η<tspan font-size="18.3" dx="3.6" dy="7" textLength="16.3" lengthAdjust="spacingAndGlyphs">20</tspan><tspan dx="0.5" dy="-7">)</tspan></text>
<rect x="424.5" y="779.2" width="177.9" height="87.3" fill="#fff" stroke="#333" stroke-width="1.1"/>
<rect x="457.5" y="799.2" width="1.9" height="1.9" fill="#000"/>
<rect x="457.8" y="840.7" width="1.9" height="1.9" fill="#d00000"/>
<text x="495" y="809.5" font-size="26.3">real(η<tspan font-size="18.3" dx="3.6" dy="7" textLength="16.3" lengthAdjust="spacingAndGlyphs">1k</tspan><tspan dx="0.5" dy="-7">)</tspan></text>
<text x="495" y="850.4" font-size="26.3">imag(η<tspan font-size="18.3" dx="3.6" dy="7" textLength="16.3" lengthAdjust="spacingAndGlyphs">1k</tspan><tspan dx="0.5" dy="-7">)</tspan></text>
<rect x="1072.3" y="775.5" width="178.5" height="87.6" fill="#fff" stroke="#333" stroke-width="1.1"/>
<rect x="1105.3" y="795.5" width="1.9" height="1.9" fill="#000"/>
<rect x="1105.6" y="837" width="1.9" height="1.9" fill="#d00000"/>
<text x="1142.8" y="805.8" font-size="26.3">real(η<tspan font-size="18.3" dx="3.6" dy="7" textLength="16.3" lengthAdjust="spacingAndGlyphs">2k</tspan><tspan dx="0.5" dy="-7">)</tspan></text>
<text x="1142.8" y="846.7" font-size="26.3">imag(η<tspan font-size="18.3" dx="3.6" dy="7" textLength="16.3" lengthAdjust="spacingAndGlyphs">2k</tspan><tspan dx="0.5" dy="-7">)</tspan></text>
</svg>
</body></html>
